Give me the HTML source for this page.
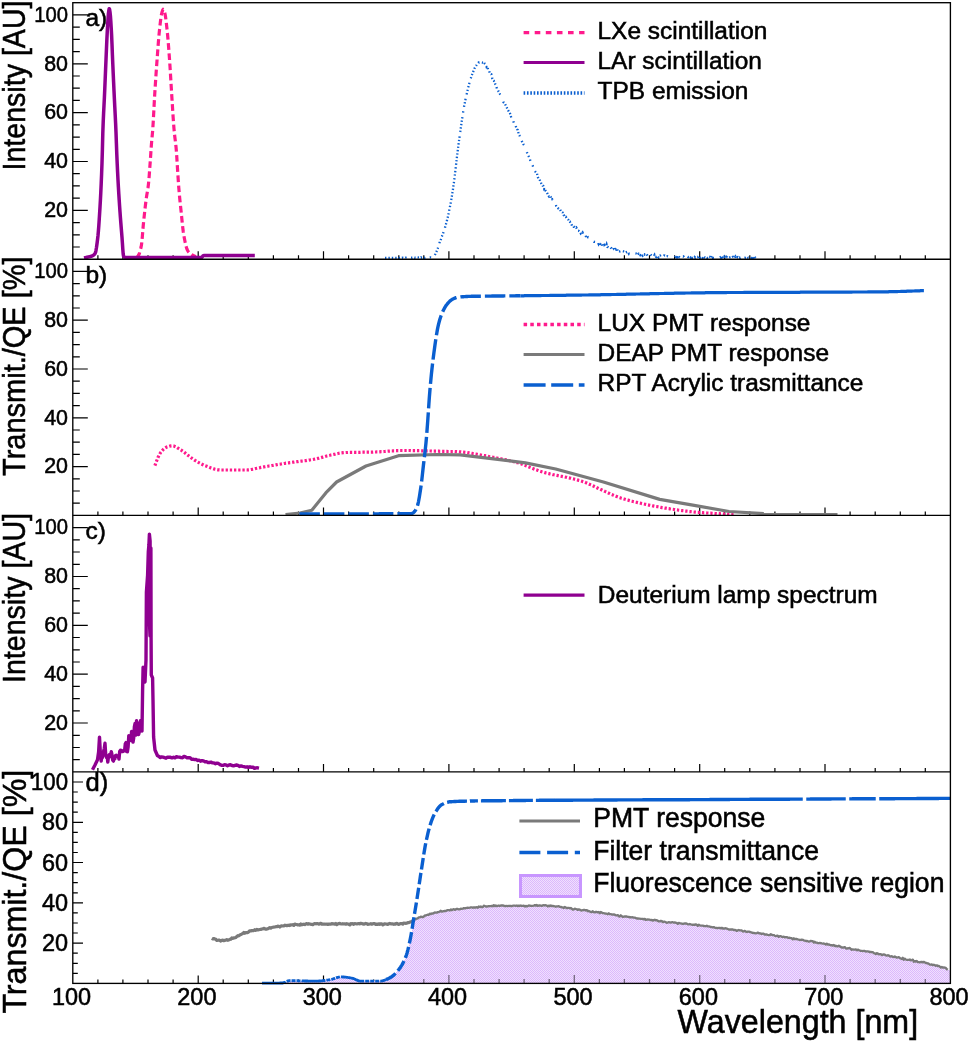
<!DOCTYPE html>
<html lang="en"><head><meta charset="utf-8"><title>Scintillation and PMT response spectra</title>
<style>html,body{margin:0;padding:0;background:#fff}svg{display:block}</style></head>
<body>
<svg width="969" height="1041" viewBox="0 0 969 1041">
<defs><pattern id="chk" width="2" height="2" patternUnits="userSpaceOnUse"><rect width="2" height="2" fill="#f0e0fe"/><rect width="1" height="1" fill="#dcb8fc"/><rect x="1" y="1" width="1" height="1" fill="#dcb8fc"/></pattern></defs>
<rect width="969" height="1041" fill="#fff"/>
<path d="M72.8,247.0h7.0M72.8,234.8h7.0M72.8,222.6h7.0M72.8,210.3h15.0M72.8,198.1h7.0M72.8,185.9h7.0M72.8,173.7h7.0M72.8,161.5h15.0M72.8,149.3h7.0M72.8,137.1h7.0M72.8,124.8h7.0M72.8,112.6h15.0M72.8,100.4h7.0M72.8,88.2h7.0M72.8,76.0h7.0M72.8,63.8h15.0M72.8,51.6h7.0M72.8,39.3h7.0M72.8,27.1h7.0M72.8,14.9h15.0M97.9,259.2v-4.0M122.9,259.2v-4.0M148.0,259.2v-4.0M173.1,259.2v-4.0M198.2,259.2v-8.0M223.2,259.2v-4.0M248.3,259.2v-4.0M273.4,259.2v-4.0M298.5,259.2v-4.0M323.5,259.2v-8.0M348.6,259.2v-4.0M373.7,259.2v-4.0M398.8,259.2v-4.0M423.8,259.2v-4.0M448.9,259.2v-8.0M474.0,259.2v-4.0M499.1,259.2v-4.0M524.1,259.2v-4.0M549.2,259.2v-4.0M574.3,259.2v-8.0M599.4,259.2v-4.0M624.4,259.2v-4.0M649.5,259.2v-4.0M674.6,259.2v-4.0M699.7,259.2v-8.0M724.7,259.2v-4.0M749.8,259.2v-4.0M774.9,259.2v-4.0M800.0,259.2v-4.0M825.0,259.2v-8.0M850.1,259.2v-4.0M875.2,259.2v-4.0M900.3,259.2v-4.0M925.3,259.2v-4.0" stroke="#000" stroke-width="1.2" fill="none"/>
<path d="M385.0,258.0 L385.8,258.0 L386.6,258.0 L387.4,258.0 L388.2,258.0 L389.0,258.0 L389.8,258.0 L390.6,258.0 L391.4,258.0 L392.2,258.0 L393.0,258.0 L393.8,258.0 L394.6,258.0 L395.4,258.0 L396.2,258.0 L397.0,258.0 L397.8,257.9 L398.6,258.0 L399.4,257.8 L400.2,257.8 L401.0,257.7 L401.8,258.0 L402.6,257.8 L403.4,258.0 L404.2,258.0 L405.0,257.9 L405.8,257.6 L406.6,257.8 L407.4,257.9 L408.2,257.9 L409.0,257.6 L409.8,257.8 L410.6,257.7 L411.4,257.7 L412.2,257.9 L413.0,257.6 L413.8,257.7 L414.6,257.9 L415.4,257.6 L416.2,257.7 L417.0,257.7 L417.8,257.7 L418.6,257.5 L419.4,257.6 L420.2,257.8 L421.0,257.3 L421.8,257.7 L422.6,257.6 L423.4,257.4 L424.2,257.8 L425.0,257.6 L425.8,257.3 L426.6,257.5 L427.4,257.5 L428.2,257.3 L429.0,257.4 L429.8,257.3 L430.6,257.3 L431.4,257.4 L432.2,256.8 L433.0,256.6 L433.8,256.1 L434.6,255.5 L435.4,254.0 L436.2,252.4 L437.0,250.4 L437.8,248.3 L438.6,246.0 L439.4,243.2 L440.2,241.1 L441.0,239.2 L441.8,236.6 L442.6,234.7 L443.4,232.5 L444.2,230.3 L445.0,227.7 L445.8,224.8 L446.6,221.9 L447.4,218.7 L448.2,215.5 L449.0,211.5 L449.8,207.5 L450.6,203.4 L451.4,198.8 L452.2,194.1 L453.0,189.0 L453.8,183.4 L454.6,177.0 L455.4,170.5 L456.2,163.5 L457.0,156.5 L457.8,150.0 L458.6,143.6 L459.4,138.1 L460.2,132.2 L461.0,126.6 L461.8,120.8 L462.6,115.8 L463.4,110.5 L464.2,105.8 L465.0,101.9 L465.8,97.9 L466.6,94.4 L467.4,91.2 L468.2,87.5 L469.0,84.4 L469.8,81.7 L470.6,79.1 L471.4,76.6 L472.2,74.3 L473.0,72.3 L473.8,70.3 L474.6,68.3 L475.4,66.9 L476.2,65.7 L477.0,64.4 L477.8,63.5 L478.6,62.5 L479.4,62.5 L480.2,62.3 L481.0,62.4 L481.8,62.4 L482.6,62.6 L483.4,62.5 L484.2,62.9" fill="none" stroke="#0a5fd0" stroke-width="2.3" stroke-dasharray="1.4 2.0 1.4 2.0 1.4 2.0 1.4 2.0 1.4 2.0 1.4 2.0 1.4 4.5 1.4 2.0 1.4 2.0 1.4 2.0 1.4 2.0 1.4 4.5 1.4 4.5 1.4 2.0 1.4 2.0 1.4 4.5 1.4 2.0 1.4 2.4 1.4 2.0 1.4 4.5 1.4 2.0 1.4 2.0 1.4 2.0 1.4 2.0 1.4 2.4 1.4 2.4 1.4 2.0 1.4 2.4 1.4 2.0 1.4 2.0 1.4 2.0 1.4 2.0 1.4 2.0 1.4 2.4 1.4 2.4 1.4 2.0 1.4 2.4 1.4 2.4 1.4 2.0 1.4 2.0"/>
<path d="M484.2,62.9 L485.0,63.9 L485.8,64.6 L486.6,66.9 L487.4,66.4 L488.2,70.0 L489.0,70.3 L489.8,73.1 L490.6,74.1 L491.4,74.4 L492.2,78.3 L493.0,80.2 L493.8,80.8 L494.6,82.5 L495.4,84.4 L496.2,85.6 L497.0,89.1 L497.8,89.6 L498.6,91.7 L499.4,92.8 L500.2,94.6 L501.0,95.7 L501.8,99.3 L502.6,99.7 L503.4,102.2 L504.2,102.9 L505.0,103.9 L505.8,105.7 L506.6,107.1 L507.4,109.1 L508.2,110.4 L509.0,112.0 L509.8,112.8 L510.6,114.9 L511.4,118.5 L512.2,118.4 L513.0,119.8 L513.8,122.7 L514.6,125.3 L515.4,124.8 L516.2,127.6 L517.0,129.1 L517.8,130.1 L518.6,133.9 L519.4,135.2 L520.2,137.1 L521.0,138.3 L521.8,141.1 L522.6,142.1 L523.4,144.3 L524.2,145.3 L525.0,147.1 L525.8,150.9 L526.6,151.3 L527.4,153.8 L528.2,155.4 L529.0,157.0 L529.8,158.8 L530.6,161.5 L531.4,162.6 L532.2,164.5 L533.0,166.4 L533.8,169.1 L534.6,170.4 L535.4,171.8 L536.2,172.6 L537.0,173.6 L537.8,177.0 L538.6,178.5 L539.4,179.1 L540.2,181.1 L541.0,182.8 L541.8,184.2 L542.6,185.7 L543.4,186.0 L544.2,188.9 L545.0,188.0 L545.8,191.1 L546.6,192.1 L547.4,193.6 L548.2,195.7 L549.0,196.6 L549.8,195.7 L550.6,196.5 L551.4,199.6 L552.2,199.3 L553.0,201.3 L553.8,203.1 L554.6,202.2 L555.4,202.9 L556.2,205.9 L557.0,206.7 L557.8,207.6 L558.6,208.8 L559.4,209.1 L560.2,209.6 L561.0,211.7 L561.8,212.0 L562.6,212.5 L563.4,215.1 L564.2,215.6 L565.0,217.0 L565.8,216.8 L566.6,218.0 L567.4,218.6 L568.2,219.6 L569.0,221.4 L569.8,221.5 L570.6,223.2 L571.4,224.0 L572.2,226.2 L573.0,224.3 L573.8,226.9 L574.6,226.9 L575.4,227.8 L576.2,227.4 L577.0,228.9 L577.8,230.7 L578.6,230.8 L579.4,231.6 L580.2,232.0 L581.0,233.9 L581.8,233.6 L582.6,232.5 L583.4,234.4 L584.2,233.9 L585.0,233.5 L585.8,236.2 L586.6,238.2 L587.4,237.6 L588.2,237.1 L589.0,237.8 L589.8,239.9 L590.6,239.5 L591.4,239.9 L592.2,240.2 L593.0,240.7 L593.8,241.7 L594.6,241.8 L595.4,241.9 L596.2,241.3 L597.0,242.9 L597.8,242.3 L598.6,244.1 L599.4,242.5 L600.2,243.8 L601.0,244.2 L601.8,243.5 L602.6,246.3 L603.4,246.4 L604.2,245.2 L605.0,246.5 L605.8,246.5 L606.6,244.4 L607.4,247.0 L608.2,247.1 L609.0,247.5 L609.8,246.9 L610.6,247.8 L611.4,248.1 L612.2,249.5 L613.0,249.1 L613.8,249.1 L614.6,250.5 L615.4,249.1 L616.2,249.5 L617.0,248.5 L617.8,251.4 L618.6,251.2 L619.4,251.3 L620.2,251.3 L621.0,251.0 L621.8,251.3 L622.6,251.1 L623.4,251.3 L624.2,251.7 L625.0,253.0 L625.8,252.4 L626.6,252.1 L627.4,251.8 L628.2,252.0 L629.0,253.9 L629.8,253.2 L630.6,252.9 L631.4,252.7 L632.2,252.3 L633.0,253.2 L633.8,254.1 L634.6,253.2 L635.4,253.4 L636.2,253.5 L637.0,253.9 L637.8,252.7 L638.6,253.8 L639.4,253.5 L640.2,254.9 L641.0,253.7 L641.8,254.9 L642.6,255.7 L643.4,254.4 L644.2,254.2 L645.0,254.9 L645.8,254.9 L646.6,254.2 L647.4,255.4 L648.2,256.7 L649.0,255.0 L649.8,255.1 L650.6,254.5 L651.4,255.7 L652.2,254.5 L653.0,254.6 L653.8,256.6 L654.6,254.9 L655.4,256.6 L656.2,257.0 L657.0,256.0 L657.8,256.3 L658.6,257.5 L659.4,255.8 L660.2,255.5 L661.0,254.9 L661.8,256.1 L662.6,257.3 L663.4,256.9 L664.2,255.4 L665.0,255.5 L665.8,255.9 L666.6,256.5 L667.4,256.2 L668.2,256.6 L669.0,256.7 L669.8,256.2 L670.6,256.5 L671.4,256.7 L672.2,256.5 L673.0,257.0 L673.8,258.0 L674.6,257.1 L675.4,256.7 L676.2,255.4 L677.0,257.1 L677.8,255.2 L678.6,255.7 L679.4,257.5 L680.2,257.4 L681.0,256.8 L681.8,255.5 L682.6,256.6 L683.4,256.4 L684.2,257.5 L685.0,258.0 L685.8,257.2 L686.6,256.4 L687.4,256.1 L688.2,257.1 L689.0,257.0 L689.8,256.2 L690.6,257.3 L691.4,256.3 L692.2,258.0 L693.0,258.0 L693.8,258.0 L694.6,256.9 L695.4,257.7 L696.2,257.2 L697.0,257.0 L697.8,257.0 L698.6,256.3 L699.4,256.2 L700.2,258.0 L701.0,257.2 L701.8,257.6 L702.6,258.0 L703.4,256.0 L704.2,256.8 L705.0,257.6 L705.8,257.8 L706.6,257.2 L707.4,258.0 L708.2,257.7 L709.0,256.5 L709.8,256.8 L710.6,258.0 L711.4,257.9 L712.2,256.0 L713.0,258.0 L713.8,258.0 L714.6,258.0 L715.4,257.3 L716.2,257.4 L717.0,256.7 L717.8,258.0 L718.6,257.5 L719.4,258.0 L720.2,257.2 L721.0,257.8 L721.8,256.4 L722.6,257.4 L723.4,258.0 L724.2,256.7 L725.0,258.0 L725.8,258.0 L726.6,256.9 L727.4,257.4 L728.2,257.4 L729.0,257.8 L729.8,257.4 L730.6,257.2 L731.4,257.6 L732.2,257.0 L733.0,256.8 L733.8,257.8 L734.6,258.0 L735.4,256.6 L736.2,257.9 L737.0,257.4 L737.8,257.1 L738.6,258.0 L739.4,257.5 L740.2,258.0 L741.0,257.3 L741.8,258.0 L742.6,257.7 L743.4,257.3 L744.2,258.0 L745.0,257.8 L745.8,258.0 L746.6,257.9 L747.4,257.1 L748.2,257.9 L749.0,258.0 L749.8,258.0 L750.6,257.3 L751.4,258.0 L752.2,256.6 L753.0,258.0 L753.8,257.1 L754.6,256.5 L755.4,257.9 L756.2,258.0 L757.0,256.8 L757.8,257.1 L758.6,257.4 L759.4,257.1" fill="none" stroke="#0a5fd0" stroke-width="2.3" stroke-dasharray="1.4 2.6 1.4 1.9 1.4 2.6 1.4 1.9 1.4 2.6 1.4 1.9 1.4 1.9 1.4 2.6 1.4 2.6 1.4 1.9 1.4 8.0 1.4 1.9 1.4 1.9 1.4 1.9 1.4 1.9 1.4 1.9 1.4 5.0 1.4 5.0 1.4 1.9 1.4 1.9 1.4 1.9 1.4 5.0 1.4 1.9 1.4 8.0 1.4 2.6 1.4 2.6 1.4 5.0 1.4 5.0 1.4 1.9 1.4 1.9 1.4 1.9 1.4 1.9 1.4 1.9 1.4 1.9 1.4 2.6 1.4 1.9 1.4 1.9 1.4 1.9 1.4 1.9 1.4 8.0 1.4 1.9 1.4 1.9 1.4 1.9 1.4 1.9 1.4 1.9 1.4 1.9 1.4 1.9 1.4 1.9 1.4 5.0 1.4 1.9 1.4 2.6 1.4 1.9 1.4 1.9 1.4 5.0 1.4 1.9 1.4 8.0 1.4 5.0 1.4 2.6 1.4 1.9 1.4 2.6"/>
<path d="M136.0,257.6 L136.4,257.5 L136.8,257.3 L137.2,257.0 L137.6,256.6 L138.0,256.1 L138.4,255.5 L138.8,254.8 L139.2,253.9 L139.6,252.7 L140.0,251.4 L140.4,249.9 L140.8,248.3 L141.2,246.4 L141.6,244.1 L142.0,240.5 L142.4,235.8 L142.8,230.8 L143.2,226.0 L143.6,221.9 L144.0,218.1 L144.4,214.3 L144.8,210.7 L145.2,207.1 L145.6,203.8 L146.0,200.6 L146.4,197.6 L146.8,195.1 L147.2,192.7 L147.6,190.3 L148.0,187.7 L148.4,184.6 L148.8,180.7 L149.2,175.8 L149.6,170.4 L150.0,164.9 L150.4,159.3 L150.8,153.3 L151.2,147.4 L151.6,142.2 L152.0,137.9 L152.4,133.7 L152.8,128.6 L153.2,122.3 L153.6,115.0 L154.0,107.4 L154.4,99.9 L154.8,93.0 L155.2,86.7 L155.6,80.6 L156.0,74.6 L156.4,68.9 L156.8,63.4 L157.2,57.9 L157.6,52.5 L158.0,47.1 L158.4,42.0 L158.8,37.3 L159.2,32.9 L159.6,29.1 L160.0,25.4 L160.4,21.9 L160.8,18.7 L161.2,15.9 L161.6,13.8 L162.0,12.3 L162.4,11.0 L162.8,9.9 L163.2,9.4 L163.6,9.6 L164.0,10.4 L164.4,11.6 L164.8,13.0 L165.2,14.8 L165.6,17.3 L166.0,20.2 L166.4,23.6 L166.8,27.3 L167.2,31.0 L167.6,35.0 L168.0,39.5 L168.4,44.4 L168.8,49.5 L169.2,55.0 L169.6,60.6 L170.0,66.5 L170.4,72.9 L170.8,79.7 L171.2,86.5 L171.6,93.0 L172.0,99.3 L172.4,105.7 L172.8,112.1 L173.2,118.1 L173.6,123.8 L174.0,128.9 L174.4,133.1 L174.8,136.7 L175.2,139.9 L175.6,143.2 L176.0,146.8 L176.4,151.3 L176.8,157.2 L177.2,163.8 L177.6,170.2 L178.0,176.3 L178.4,182.3 L178.8,187.9 L179.2,192.7 L179.6,197.1 L180.0,201.1 L180.4,204.9 L180.8,208.6 L181.2,212.4 L181.6,216.4 L182.0,220.4 L182.4,224.3 L182.8,228.0 L183.2,231.3 L183.6,234.0 L184.0,236.3 L184.4,238.5 L184.8,240.5 L185.2,242.5 L185.6,244.3 L186.0,246.0 L186.4,247.4 L186.8,248.7 L187.2,249.7 L187.6,250.5 L188.0,251.1 L188.4,251.7 L188.8,252.2 L189.2,252.6 L189.6,253.0 L190.0,253.4 L190.4,253.7 L190.8,254.0 L191.2,254.3 L191.6,254.6 L192.0,254.8 L192.4,255.1 L192.8,255.3 L193.2,255.5 L193.6,255.7 L194.0,255.9 L194.4,256.1 L194.8,256.2 L195.2,256.4 L195.6,256.5 L196.0,256.6" fill="none" stroke="#ff1a8c" stroke-width="3.2" stroke-dasharray="6.7 3.5"/>
<path d="M84.0,258.0 L84.4,257.9 L84.8,257.8 L85.2,257.7 L85.6,257.6 L86.0,257.5 L86.4,257.4 L86.8,257.3 L87.2,257.2 L87.6,257.1 L88.0,257.1 L88.4,257.0 L88.8,256.9 L89.2,256.8 L89.6,256.7 L90.0,256.6 L90.4,256.5 L90.8,256.4 L91.2,256.3 L91.6,256.2 L92.0,256.0 L92.4,255.8 L92.8,255.6 L93.2,255.4 L93.6,255.1 L94.0,254.7 L94.4,254.3 L94.8,253.8 L95.2,253.2 L95.6,252.1 L96.0,250.3 L96.4,248.0 L96.8,245.3 L97.2,242.2 L97.6,239.0 L98.0,235.5 L98.4,231.0 L98.8,225.8 L99.2,219.9 L99.6,213.7 L100.0,207.2 L100.4,200.1 L100.8,192.3 L101.2,183.7 L101.6,174.0 L102.0,163.0 L102.4,149.4 L102.8,133.2 L103.2,122.1 L103.6,113.2 L104.0,105.3 L104.4,97.4 L104.8,88.4 L105.2,78.7 L105.6,69.1 L106.0,59.7 L106.4,50.2 L106.8,41.0 L107.2,32.8 L107.6,25.7 L108.0,19.0 L108.4,13.7 L108.8,10.6 L109.2,8.7 L109.6,9.4 L110.0,12.0 L110.4,15.7 L110.8,21.1 L111.2,27.6 L111.6,34.9 L112.0,44.3 L112.4,54.7 L112.8,64.3 L113.2,73.3 L113.6,82.2 L114.0,90.9 L114.4,99.2 L114.8,107.1 L115.2,115.0 L115.6,123.2 L116.0,132.4 L116.4,143.4 L116.8,154.4 L117.2,163.6 L117.6,172.2 L118.0,180.0 L118.4,187.2 L118.8,193.9 L119.2,200.2 L119.6,206.2 L120.0,211.9 L120.4,217.3 L120.8,222.5 L121.2,227.5 L121.6,232.4 L122.0,237.3 L122.4,243.0 L122.8,249.1 L123.2,254.1 L123.6,256.4 L124.0,256.7 L124.4,257.0 L124.8,257.2 L125.2,257.4 L125.6,257.5 L126.0,257.5 L126.4,257.5 L126.8,257.5 L127.2,257.5 L127.6,257.5 L128.0,257.5 L128.4,257.5 L128.8,257.5 L129.2,257.5 L129.6,257.5 L130.0,257.5 L130.4,257.5 L130.8,257.5 L131.2,257.5 L131.6,257.5 L132.0,257.5 L132.4,257.5 L132.8,257.5 L133.2,257.5 L133.6,257.5 L134.0,257.5 L134.4,257.5 L134.8,257.5 L135.2,257.5 L135.6,257.5 L136.0,257.5 L136.4,257.5 L136.8,257.5 L137.2,257.5 L137.6,257.5 L138.0,257.5 L138.4,257.5 L138.8,257.5 L139.2,257.5 L139.6,257.5 L140.0,257.5 L140.4,257.5 L140.8,257.5 L141.2,257.5 L141.6,257.5 L142.0,257.5 L142.4,257.5 L142.8,257.5 L143.2,257.5 L143.6,257.5 L144.0,257.5 L144.4,257.5 L144.8,257.5 L145.2,257.5 L145.6,257.5 L146.0,257.5 L146.4,257.5 L146.8,257.5 L147.2,257.5 L147.6,257.5 L148.0,257.5 L148.4,257.5 L148.8,257.5 L149.2,257.5 L149.6,257.5 L150.0,257.5 L150.4,257.5 L150.8,257.5 L151.2,257.5 L151.6,257.5 L152.0,257.5 L152.4,257.5 L152.8,257.5 L153.2,257.5 L153.6,257.5 L154.0,257.5 L154.4,257.5 L154.8,257.5 L155.2,257.5 L155.6,257.5 L156.0,257.5 L156.4,257.5 L156.8,257.5 L157.2,257.5 L157.6,257.5 L158.0,257.5 L158.4,257.5 L158.8,257.5 L159.2,257.5 L159.6,257.5 L160.0,257.5 L160.4,257.5 L160.8,257.5 L161.2,257.5 L161.6,257.5 L162.0,257.5 L162.4,257.5 L162.8,257.5 L163.2,257.5 L163.6,257.5 L164.0,257.5 L164.4,257.5 L164.8,257.5 L165.2,257.5 L165.6,257.5 L166.0,257.5 L166.4,257.5 L166.8,257.5 L167.2,257.5 L167.6,257.5 L168.0,257.5 L168.4,257.5 L168.8,257.5 L169.2,257.5 L169.6,257.5 L170.0,257.5 L170.4,257.5 L170.8,257.5 L171.2,257.5 L171.6,257.5 L172.0,257.5 L172.4,257.5 L172.8,257.5 L173.2,257.5 L173.6,257.5 L174.0,257.5 L174.4,257.5 L174.8,257.5 L175.2,257.5 L175.6,257.5 L176.0,257.5 L176.4,257.5 L176.8,257.5 L177.2,257.5 L177.6,257.5 L178.0,257.5 L178.4,257.5 L178.8,257.5 L179.2,257.5 L179.6,257.5 L180.0,257.5 L180.4,257.5 L180.8,257.5 L181.2,257.5 L181.6,257.5 L182.0,257.5 L182.4,257.5 L182.8,257.5 L183.2,257.5 L183.6,257.5 L184.0,257.5 L184.4,257.5 L184.8,257.5 L185.2,257.5 L185.6,257.5 L186.0,257.5 L186.4,257.5 L186.8,257.5 L187.2,257.5 L187.6,257.5 L188.0,257.5 L188.4,257.5 L188.8,257.5 L189.2,257.5 L189.6,257.5 L190.0,257.5 L190.4,257.5 L190.8,257.5 L191.2,257.5 L191.6,257.5 L192.0,257.5 L192.4,257.5 L192.8,257.5 L193.2,257.5 L193.6,257.5 L194.0,257.5 L194.4,257.5 L194.8,257.5 L195.2,257.5 L195.6,257.5 L196.0,257.5 L196.4,257.5 L196.8,257.5 L197.2,257.5 L197.6,257.5 L198.0,257.5 L198.4,257.5 L198.8,257.5 L199.2,257.5 L199.6,257.5 L200.0,257.5 L200.4,257.5 L200.8,257.5 L201.2,257.5 L201.6,257.5 L202.0,257.2 L202.4,256.7 L202.8,256.1 L203.2,255.7 L203.6,255.6 L204.0,255.6 L204.4,255.6 L204.8,255.6 L205.2,255.6 L205.6,255.6 L206.0,255.6 L206.4,255.6 L206.8,255.6 L207.2,255.6 L207.6,255.6 L208.0,255.6 L208.4,255.6 L208.8,255.5 L209.2,255.5 L209.6,255.5 L210.0,255.5 L210.4,255.5 L210.8,255.5 L211.2,255.5 L211.6,255.5 L212.0,255.5 L212.4,255.5 L212.8,255.5 L213.2,255.5 L213.6,255.5 L214.0,255.5 L214.4,255.5 L214.8,255.5 L215.2,255.5 L215.6,255.5 L216.0,255.5 L216.4,255.5 L216.8,255.5 L217.2,255.5 L217.6,255.5 L218.0,255.5 L218.4,255.5 L218.8,255.5 L219.2,255.5 L219.6,255.5 L220.0,255.5 L220.4,255.5 L220.8,255.5 L221.2,255.5 L221.6,255.5 L222.0,255.5 L222.4,255.5 L222.8,255.5 L223.2,255.5 L223.6,255.4 L224.0,255.4 L224.4,255.4 L224.8,255.4 L225.2,255.4 L225.6,255.4 L226.0,255.4 L226.4,255.4 L226.8,255.4 L227.2,255.4 L227.6,255.4 L228.0,255.4 L228.4,255.4 L228.8,255.4 L229.2,255.4 L229.6,255.4 L230.0,255.4 L230.4,255.4 L230.8,255.4 L231.2,255.4 L231.6,255.4 L232.0,255.4 L232.4,255.4 L232.8,255.4 L233.2,255.4 L233.6,255.4 L234.0,255.4 L234.4,255.4 L234.8,255.4 L235.2,255.4 L235.6,255.4 L236.0,255.4 L236.4,255.4 L236.8,255.4 L237.2,255.4 L237.6,255.4 L238.0,255.4 L238.4,255.4 L238.8,255.4 L239.2,255.4 L239.6,255.4 L240.0,255.4 L240.4,255.4 L240.8,255.4 L241.2,255.4 L241.6,255.4 L242.0,255.4 L242.4,255.4 L242.8,255.4 L243.2,255.4 L243.6,255.4 L244.0,255.4 L244.4,255.4 L244.8,255.4 L245.2,255.4 L245.6,255.4 L246.0,255.4 L246.4,255.4 L246.8,255.4 L247.2,255.4 L247.6,255.4 L248.0,255.4 L248.4,255.4 L248.8,255.4 L249.2,255.4 L249.6,255.4 L250.0,255.4 L250.4,255.4 L250.8,255.4 L251.2,255.4 L251.6,255.4 L252.0,255.4 L252.4,255.4 L252.8,255.4 L253.2,255.4 L253.6,255.4 L254.0,255.4 L254.4,255.4 L254.8,255.4" fill="none" stroke="#8f0090" stroke-width="3.5" stroke-linejoin="round"/>
<path d="M72.8,503.2h7.0M72.8,491.0h7.0M72.8,478.8h7.0M72.8,466.6h15.0M72.8,454.4h7.0M72.8,442.2h7.0M72.8,430.0h7.0M72.8,417.8h15.0M72.8,405.6h7.0M72.8,393.4h7.0M72.8,381.2h7.0M72.8,369.0h15.0M72.8,356.8h7.0M72.8,344.6h7.0M72.8,332.4h7.0M72.8,320.2h15.0M72.8,308.0h7.0M72.8,295.8h7.0M72.8,283.6h7.0M72.8,271.4h15.0M97.9,515.4v-4.0M122.9,515.4v-4.0M148.0,515.4v-4.0M173.1,515.4v-4.0M198.2,515.4v-8.0M223.2,515.4v-4.0M248.3,515.4v-4.0M273.4,515.4v-4.0M298.5,515.4v-4.0M323.5,515.4v-8.0M348.6,515.4v-4.0M373.7,515.4v-4.0M398.8,515.4v-4.0M423.8,515.4v-4.0M448.9,515.4v-8.0M474.0,515.4v-4.0M499.1,515.4v-4.0M524.1,515.4v-4.0M549.2,515.4v-4.0M574.3,515.4v-8.0M599.4,515.4v-4.0M624.4,515.4v-4.0M649.5,515.4v-4.0M674.6,515.4v-4.0M699.7,515.4v-8.0M724.7,515.4v-4.0M749.8,515.4v-4.0M774.9,515.4v-4.0M800.0,515.4v-4.0M825.0,515.4v-8.0M850.1,515.4v-4.0M875.2,515.4v-4.0M900.3,515.4v-4.0M925.3,515.4v-4.0" stroke="#000" stroke-width="1.2" fill="none"/>
<path d="M154.9,465.6 L155.9,462.8 L156.9,460.2 L157.9,457.7 L158.9,455.6 L159.9,453.7 L160.9,452.1 L161.9,450.9 L162.9,449.8 L163.9,448.9 L164.9,448.1 L165.9,447.5 L166.9,447.0 L167.9,446.7 L168.9,446.4 L169.9,446.1 L170.9,445.9 L171.9,445.8 L172.9,445.8 L173.9,446.0 L174.9,446.4 L175.9,446.8 L176.9,447.4 L177.9,448.1 L178.9,448.7 L179.9,449.3 L180.9,449.9 L181.9,450.6 L182.9,451.3 L183.9,452.0 L184.9,452.8 L185.9,453.7 L186.9,454.5 L187.9,455.3 L188.9,456.1 L189.9,456.9 L190.9,457.6 L191.9,458.3 L192.9,459.0 L193.9,459.6 L194.9,460.3 L195.9,460.9 L196.9,461.5 L197.9,462.1 L198.9,462.7 L199.9,463.2 L200.9,463.7 L201.9,464.2 L202.9,464.7 L203.9,465.2 L204.9,465.6 L205.9,465.9 L206.9,466.3 L207.9,466.7 L208.9,467.1 L209.9,467.5 L210.9,467.9 L211.9,468.2 L212.9,468.6 L213.9,468.9 L214.9,469.2 L215.9,469.4 L216.9,469.6 L217.9,469.8 L218.9,469.9 L219.9,470.0 L220.9,470.0 L221.9,470.0 L222.9,470.0 L223.9,470.0 L224.9,470.0 L225.9,470.0 L226.9,470.0 L227.9,470.0 L228.9,470.0 L229.9,470.0 L230.9,470.0 L231.9,470.0 L232.9,470.0 L233.9,470.0 L234.9,470.0 L235.9,470.0 L236.9,470.0 L237.9,470.0 L238.9,470.0 L239.9,470.0 L240.9,470.0 L241.9,470.0 L242.9,470.0 L243.9,470.0 L244.9,470.0 L245.9,470.0 L246.9,470.0 L247.9,469.9 L248.9,469.8 L249.9,469.7 L250.9,469.5 L251.9,469.4 L252.9,469.2 L253.9,469.0 L254.9,468.8 L255.9,468.5 L256.9,468.3 L257.9,468.1 L258.9,467.9 L259.9,467.7 L260.9,467.4 L261.9,467.2 L262.9,467.1 L263.9,466.9 L264.9,466.7 L265.9,466.5 L266.9,466.4 L267.9,466.2 L268.9,466.0 L269.9,465.9 L270.9,465.7 L271.9,465.5 L272.9,465.4 L273.9,465.2 L274.9,465.0 L275.9,464.8 L276.9,464.7 L277.9,464.5 L278.9,464.3 L279.9,464.2 L280.9,464.0 L281.9,463.9 L282.9,463.7 L283.9,463.5 L284.9,463.4 L285.9,463.2 L286.9,463.1 L287.9,462.9 L288.9,462.8 L289.9,462.6 L290.9,462.5 L291.9,462.3 L292.9,462.2 L293.9,462.1 L294.9,461.9 L295.9,461.8 L296.9,461.7 L297.9,461.6 L298.9,461.4 L299.9,461.3 L300.9,461.2 L301.9,461.1 L302.9,461.0 L303.9,460.8 L304.9,460.7 L305.9,460.6 L306.9,460.4 L307.9,460.3 L308.9,460.1 L309.9,460.0 L310.9,459.8 L311.9,459.7 L312.9,459.5 L313.9,459.3 L314.9,459.1 L315.9,458.9 L316.9,458.7 L317.9,458.4 L318.9,458.2 L319.9,457.9 L320.9,457.7 L321.9,457.4 L322.9,457.1 L323.9,456.8 L324.9,456.6 L325.9,456.3 L326.9,456.0 L327.9,455.8 L328.9,455.5 L329.9,455.3 L330.9,455.0 L331.9,454.8 L332.9,454.6 L333.9,454.4 L334.9,454.2 L335.9,453.9 L336.9,453.7 L337.9,453.5 L338.9,453.3 L339.9,453.1 L340.9,452.9 L341.9,452.8 L342.9,452.7 L343.9,452.6 L344.9,452.6 L345.9,452.5 L346.9,452.5 L347.9,452.5 L348.9,452.4 L349.9,452.4 L350.9,452.4 L351.9,452.4 L352.9,452.4 L353.9,452.3 L354.9,452.3 L355.9,452.3 L356.9,452.3 L357.9,452.3 L358.9,452.3 L359.9,452.3 L360.9,452.2 L361.9,452.2 L362.9,452.2 L363.9,452.2 L364.9,452.2 L365.9,452.2 L366.9,452.2 L367.9,452.2 L368.9,452.1 L369.9,452.1 L370.9,452.1 L371.9,452.1 L372.9,452.1 L373.9,452.0 L374.9,452.0 L375.9,452.0 L376.9,451.9 L377.9,451.9 L378.9,451.9 L379.9,451.8 L380.9,451.7 L381.9,451.7 L382.9,451.6 L383.9,451.5 L384.9,451.5 L385.9,451.4 L386.9,451.3 L387.9,451.2 L388.9,451.2 L389.9,451.1 L390.9,451.0 L391.9,451.0 L392.9,450.9 L393.9,450.8 L394.9,450.8 L395.9,450.7 L396.9,450.7 L397.9,450.6 L398.9,450.6 L399.9,450.5 L400.9,450.5 L401.9,450.5 L402.9,450.5 L403.9,450.5 L404.9,450.5 L405.9,450.5 L406.9,450.5 L407.9,450.5 L408.9,450.5 L409.9,450.5 L410.9,450.6 L411.9,450.6 L412.9,450.6 L413.9,450.6 L414.9,450.6 L415.9,450.6 L416.9,450.7 L417.9,450.7 L418.9,450.7 L419.9,450.7 L420.9,450.8 L421.9,450.8 L422.9,450.8 L423.9,450.8 L424.9,450.9 L425.9,450.9 L426.9,450.9 L427.9,450.9 L428.9,451.0 L429.9,451.0 L430.9,451.0 L431.9,451.1 L432.9,451.1 L433.9,451.1 L434.9,451.1 L435.9,451.2 L436.9,451.2 L437.9,451.2 L438.9,451.2 L439.9,451.3 L440.9,451.3 L441.9,451.3 L442.9,451.3 L443.9,451.4 L444.9,451.4 L445.9,451.4 L446.9,451.4 L447.9,451.5 L448.9,451.5 L449.9,451.5 L450.9,451.5 L451.9,451.6 L452.9,451.6 L453.9,451.6 L454.9,451.7 L455.9,451.7 L456.9,451.7 L457.9,451.8 L458.9,451.8 L459.9,451.9 L460.9,451.9 L461.9,452.0 L462.9,452.1 L463.9,452.2 L464.9,452.3 L465.9,452.4 L466.9,452.5 L467.9,452.7 L468.9,452.8 L469.9,453.0 L470.9,453.1 L471.9,453.3 L472.9,453.5 L473.9,453.6 L474.9,453.8 L475.9,454.0 L476.9,454.2 L477.9,454.4 L478.9,454.6 L479.9,454.8 L480.9,455.0 L481.9,455.2 L482.9,455.4 L483.9,455.6 L484.9,455.7 L485.9,455.9 L486.9,456.1 L487.9,456.3 L488.9,456.5 L489.9,456.7 L490.9,456.8 L491.9,457.0 L492.9,457.2 L493.9,457.4 L494.9,457.6 L495.9,457.8 L496.9,458.0 L497.9,458.2 L498.9,458.4 L499.9,458.6 L500.9,458.8 L501.9,459.0 L502.9,459.2 L503.9,459.4 L504.9,459.6 L505.9,459.8 L506.9,460.1 L507.9,460.3 L508.9,460.5 L509.9,460.8 L510.9,461.0 L511.9,461.3 L512.9,461.5 L513.9,461.8 L514.9,462.0 L515.9,462.3 L516.9,462.6 L517.9,462.8 L518.9,463.1 L519.9,463.5 L520.9,463.8 L521.9,464.1 L522.9,464.5 L523.9,464.9 L524.9,465.3 L525.9,465.7 L526.9,466.1 L527.9,466.5 L528.9,466.9 L529.9,467.3 L530.9,467.7 L531.9,468.1 L532.9,468.5 L533.9,468.9 L534.9,469.3 L535.9,469.7 L536.9,470.0 L537.9,470.4 L538.9,470.8 L539.9,471.1 L540.9,471.4 L541.9,471.8 L542.9,472.1 L543.9,472.3 L544.9,472.6 L545.9,472.9 L546.9,473.1 L547.9,473.4 L548.9,473.6 L549.9,473.9 L550.9,474.1 L551.9,474.3 L552.9,474.6 L553.9,474.8 L554.9,475.0 L555.9,475.2 L556.9,475.4 L557.9,475.6 L558.9,475.8 L559.9,476.0 L560.9,476.2 L561.9,476.4 L562.9,476.6 L563.9,476.8 L564.9,477.0 L565.9,477.2 L566.9,477.4 L567.9,477.7 L568.9,477.9 L569.9,478.1 L570.9,478.3 L571.9,478.6 L572.9,478.8 L573.9,479.0 L574.9,479.3 L575.9,479.5 L576.9,479.8 L577.9,480.1 L578.9,480.4 L579.9,480.6 L580.9,481.0 L581.9,481.3 L582.9,481.6 L583.9,481.9 L584.9,482.3 L585.9,482.7 L586.9,483.1 L587.9,483.5 L588.9,484.0 L589.9,484.4 L590.9,484.9 L591.9,485.3 L592.9,485.8 L593.9,486.3 L594.9,486.8 L595.9,487.2 L596.9,487.7 L597.9,488.2 L598.9,488.7 L599.9,489.1 L600.9,489.6 L601.9,490.0 L602.9,490.5 L603.9,490.9 L604.9,491.4 L605.9,491.8 L606.9,492.2 L607.9,492.7 L608.9,493.2 L609.9,493.6 L610.9,494.1 L611.9,494.5 L612.9,495.0 L613.9,495.4 L614.9,495.8 L615.9,496.2 L616.9,496.6 L617.9,497.0 L618.9,497.4 L619.9,497.7 L620.9,498.1 L621.9,498.4 L622.9,498.7 L623.9,499.0 L624.9,499.3 L625.9,499.6 L626.9,499.9 L627.9,500.1 L628.9,500.4 L629.9,500.7 L630.9,501.0 L631.9,501.2 L632.9,501.5 L633.9,501.7 L634.9,502.0 L635.9,502.2 L636.9,502.4 L637.9,502.7 L638.9,502.9 L639.9,503.1 L640.9,503.3 L641.9,503.6 L642.9,503.8 L643.9,504.0 L644.9,504.2 L645.9,504.4 L646.9,504.6 L647.9,504.9 L648.9,505.1 L649.9,505.3 L650.9,505.5 L651.9,505.7 L652.9,505.9 L653.9,506.1 L654.9,506.3 L655.9,506.5 L656.9,506.6 L657.9,506.8 L658.9,507.0 L659.9,507.2 L660.9,507.4 L661.9,507.6 L662.9,507.7 L663.9,507.9 L664.9,508.1 L665.9,508.2 L666.9,508.4 L667.9,508.6 L668.9,508.7 L669.9,508.9 L670.9,509.0 L671.9,509.2 L672.9,509.3 L673.9,509.5 L674.9,509.6 L675.9,509.8 L676.9,509.9 L677.9,510.0 L678.9,510.2 L679.9,510.3 L680.9,510.5 L681.9,510.6 L682.9,510.7 L683.9,510.8 L684.9,511.0 L685.9,511.1 L686.9,511.2 L687.9,511.3 L688.9,511.5 L689.9,511.6 L690.9,511.7 L691.9,511.8 L692.9,511.9 L693.9,512.0 L694.9,512.1 L695.9,512.2 L696.9,512.3 L697.9,512.3 L698.9,512.4 L699.9,512.5 L700.9,512.5 L701.9,512.6 L702.9,512.7 L703.9,512.8 L704.9,512.8 L705.9,512.9 L706.9,513.0 L707.9,513.0 L708.9,513.1 L709.9,513.2 L710.9,513.2 L711.9,513.3 L712.9,513.4 L713.9,513.4 L714.9,513.5 L715.9,513.5 L716.9,513.6 L717.9,513.6 L718.9,513.7 L719.9,513.7 L720.9,513.8 L721.9,513.8 L722.9,513.9 L723.9,513.9 L724.9,514.0 L725.9,514.0 L726.9,514.0 L727.9,514.1 L728.9,514.1 L729.9,514.1 L730.9,514.1 L731.9,514.2 L732.9,514.2 L733.9,514.2 L734.9,514.2" fill="none" stroke="#ff1a8c" stroke-width="3.2" stroke-dasharray="2.3 1.9"/>
<path d="M285.5,514.5 L300.0,513.0 L311.8,510.2 L325.8,492.9 L336.6,482.0 L366.0,466.0 L398.5,455.7 L437.2,454.5 L460.3,454.8 L525.4,462.9 L555.7,469.0 L603.4,482.0 L659.7,499.4 L690.0,504.6 L729.0,511.5 L763.8,513.7 L837.5,514.5" fill="none" stroke="#7a7a7a" stroke-width="3.2" stroke-linejoin="round"/>
<path d="M299.4,514.0 L299.9,514.0 L300.4,514.0 L300.9,514.0 L301.4,514.0 L301.9,514.0 L302.4,514.0 L302.9,514.0 L303.4,514.0 L303.9,514.0 L304.4,514.0 L304.9,514.0 L305.4,514.0 L305.9,514.0 L306.4,514.0 L306.9,514.0 L307.4,514.0 L307.9,514.0 L308.4,514.0 L308.9,514.0 L309.4,514.0 L309.9,514.0 L310.4,514.0 L310.9,514.0 L311.4,514.0 L311.9,514.0 L312.4,514.0 L312.9,514.0 L313.4,514.0 L313.9,514.0 L314.4,514.0 L314.9,514.0 L315.4,514.0 L315.9,514.0 L316.4,514.0 L316.9,514.0 L317.4,514.0 L317.9,514.0 L318.4,514.0 L318.9,514.0 L319.4,514.0 L319.9,514.0 L320.4,514.0 L320.9,514.0 L321.4,514.0 L321.9,514.0 L322.4,514.0 L322.9,514.0 L323.4,514.0 L323.9,514.0 L324.4,514.0 L324.9,514.0 L325.4,514.0 L325.9,514.0 L326.4,514.0 L326.9,514.0 L327.4,514.0 L327.9,514.0 L328.4,514.0 L328.9,514.0 L329.4,514.0 L329.9,514.0 L330.4,514.0 L330.9,514.0 L331.4,514.0 L331.9,514.0 L332.4,514.0 L332.9,514.0 L333.4,514.0 L333.9,514.0 L334.4,514.0 L334.9,514.0 L335.4,514.0 L335.9,514.0 L336.4,514.0 L336.9,514.0 L337.4,514.0 L337.9,514.0 L338.4,514.0 L338.9,514.0 L339.4,514.0 L339.9,514.0 L340.4,514.0 L340.9,514.0 L341.4,514.0 L341.9,514.0 L342.4,514.0 L342.9,514.0 L343.4,514.0 L343.9,514.0 L344.4,514.0 L344.9,514.0 L345.4,514.0 L345.9,514.0 L346.4,514.0 L346.9,514.0 L347.4,514.0 L347.9,514.0 L348.4,514.0 L348.9,514.0 L349.4,514.0 L349.9,514.0 L350.4,514.0 L350.9,514.0 L351.4,514.0 L351.9,514.0 L352.4,514.0 L352.9,514.0 L353.4,514.0 L353.9,513.9 L354.4,513.9 L354.9,513.9 L355.4,513.9 L355.9,513.9 L356.4,513.9 L356.9,513.9 L357.4,513.9 L357.9,513.9 L358.4,513.9 L358.9,513.9 L359.4,513.9 L359.9,513.9 L360.4,513.9 L360.9,513.9 L361.4,513.9 L361.9,513.9 L362.4,513.9 L362.9,513.9 L363.4,513.9 L363.9,513.9 L364.4,513.9 L364.9,513.9 L365.4,513.9 L365.9,513.9 L366.4,513.9 L366.9,513.9 L367.4,513.9 L367.9,513.9 L368.4,513.9 L368.9,513.9 L369.4,513.9 L369.9,513.9 L370.4,513.9 L370.9,513.9 L371.4,513.9 L371.9,513.9 L372.4,513.9 L372.9,513.9 L373.4,513.9 L373.9,513.9 L374.4,513.9 L374.9,513.9 L375.4,513.9 L375.9,513.9 L376.4,513.9 L376.9,513.9 L377.4,513.9 L377.9,513.9 L378.4,513.9 L378.9,513.9 L379.4,513.8 L379.9,513.8 L380.4,513.8 L380.9,513.8 L381.4,513.8 L381.9,513.8 L382.4,513.8 L382.9,513.8 L383.4,513.8 L383.9,513.8 L384.4,513.8 L384.9,513.8 L385.4,513.8 L385.9,513.8 L386.4,513.8 L386.9,513.8 L387.4,513.8 L387.9,513.8 L388.4,513.8 L388.9,513.8 L389.4,513.8 L389.9,513.8 L390.4,513.8 L390.9,513.8 L391.4,513.8 L391.9,513.8 L392.4,513.8 L392.9,513.8 L393.4,513.8 L393.9,513.8 L394.4,513.8 L394.9,513.7 L395.4,513.7 L395.9,513.7 L396.4,513.7 L396.9,513.7 L397.4,513.7 L397.9,513.7 L398.4,513.7 L398.9,513.7 L399.4,513.7 L399.9,513.7 L400.4,513.7 L400.9,513.7 L401.4,513.7 L401.9,513.7 L402.4,513.7 L402.9,513.7 L403.4,513.7 L403.9,513.7 L404.4,513.7 L404.9,513.7 L405.4,513.7 L405.9,513.7 L406.4,513.7 L406.9,513.6 L407.4,513.6 L407.9,513.6 L408.4,513.6 L408.9,513.6 L409.4,513.6 L409.9,513.6 L410.4,513.6 L410.9,513.6 L411.4,513.6 L411.9,513.5 L412.4,513.3 L412.9,513.0 L413.4,512.7 L413.9,512.3 L414.4,511.7 L414.9,511.1 L415.4,510.3 L415.9,509.4 L416.4,508.3 L416.9,507.2 L417.4,505.9 L417.9,504.3 L418.4,502.1 L418.9,499.5 L419.4,496.7 L419.9,493.6 L420.4,490.3 L420.9,487.0 L421.4,483.3 L421.9,479.1 L422.4,474.6 L422.9,470.0 L423.4,465.5 L423.9,461.2 L424.4,457.0 L424.9,452.8 L425.4,448.4 L425.9,443.6 L426.4,438.2 L426.9,432.0 L427.4,425.3 L427.9,418.5 L428.4,411.3 L428.9,403.7 L429.4,396.7 L429.9,390.5 L430.4,384.7 L430.9,379.3 L431.4,374.2 L431.9,369.5 L432.4,365.0 L432.9,360.8 L433.4,356.7 L433.9,352.9 L434.4,349.2 L434.9,345.6 L435.4,342.1 L435.9,338.7 L436.4,335.5 L436.9,332.4 L437.4,329.6 L437.9,327.1 L438.4,324.9 L438.9,322.9 L439.4,321.0 L439.9,319.3 L440.4,317.7 L440.9,316.2 L441.4,314.9 L441.9,313.6 L442.4,312.4 L442.9,311.3 L443.4,310.2 L443.9,309.2 L444.4,308.3 L444.9,307.4 L445.4,306.6 L445.9,305.8 L446.4,305.1 L446.9,304.5 L447.4,303.8 L447.9,303.2 L448.4,302.7 L448.9,302.1 L449.4,301.6 L449.9,301.1 L450.4,300.7 L450.9,300.3 L451.4,299.9 L451.9,299.6 L452.4,299.3 L452.9,299.0 L453.4,298.8 L453.9,298.5 L454.4,298.3 L454.9,298.1 L455.4,297.9 L455.9,297.7 L456.4,297.6 L456.9,297.4 L457.4,297.3 L457.9,297.3 L458.4,297.2 L458.9,297.1 L459.4,297.1 L459.9,297.0 L460.4,297.0 L460.9,296.9 L461.4,296.9 L461.9,296.8 L462.4,296.8 L462.9,296.7 L463.4,296.7 L463.9,296.6 L464.4,296.6 L464.9,296.6 L465.4,296.6 L465.9,296.5 L466.4,296.5 L466.9,296.5 L467.4,296.5 L467.9,296.4 L468.4,296.4 L468.9,296.4 L469.4,296.4 L469.9,296.4 L470.4,296.4 L470.9,296.4 L471.4,296.3 L471.9,296.3 L472.4,296.3 L472.9,296.3 L473.4,296.3 L473.9,296.3 L474.4,296.3 L474.9,296.3 L475.4,296.3 L475.9,296.3 L476.4,296.2 L476.9,296.2 L477.4,296.2 L477.9,296.2 L478.4,296.2 L478.9,296.2 L479.4,296.2 L479.9,296.2 L480.4,296.2 L480.9,296.2 L481.4,296.2 L481.9,296.2 L482.4,296.2 L482.9,296.1 L483.4,296.1 L483.9,296.1 L484.4,296.1 L484.9,296.1 L485.4,296.1 L485.9,296.1 L486.4,296.1 L486.9,296.1 L487.4,296.1 L487.9,296.1 L488.4,296.1 L488.9,296.1 L489.4,296.1 L489.9,296.1 L490.4,296.1 L490.9,296.1 L491.4,296.1 L491.9,296.0 L492.4,296.0 L492.9,296.0 L493.4,296.0 L493.9,296.0 L494.4,296.0 L494.9,296.0 L495.4,296.0 L495.9,296.0 L496.4,296.0 L496.9,296.0 L497.4,296.0 L497.9,296.0 L498.4,296.0 L498.9,296.0 L499.4,296.0 L499.9,296.0 L500.4,296.0 L500.9,296.0 L501.4,296.0 L501.9,296.0 L502.4,296.0 L502.9,296.0 L503.4,296.0 L503.9,295.9 L504.4,295.9 L504.9,295.9 L505.4,295.9 L505.9,295.9 L506.4,295.9 L506.9,295.9 L507.4,295.9 L507.9,295.9 L508.4,295.9 L508.9,295.9 L509.4,295.9 L509.9,295.9 L510.4,295.9 L510.9,295.9 L511.4,295.9 L511.9,295.9 L512.4,295.9 L512.9,295.9 L513.4,295.9 L513.9,295.9 L514.4,295.9 L514.9,295.9 L515.4,295.9 L515.9,295.8 L516.4,295.8 L516.9,295.8 L517.4,295.8 L517.9,295.8 L518.4,295.8 L518.9,295.8 L519.4,295.8 L519.9,295.8 L520.4,295.8" fill="none" stroke="#0a5fd0" stroke-width="3.4" stroke-dasharray="20.5 4"/>
<path d="M520.4,295.8 L520.9,295.8 L521.4,295.8 L521.9,295.8 L522.4,295.8 L522.9,295.8 L523.4,295.8 L523.9,295.8 L524.4,295.7 L524.9,295.7 L525.4,295.7 L525.9,295.7 L526.4,295.7 L526.9,295.7 L527.4,295.7 L527.9,295.7 L528.4,295.7 L528.9,295.7 L529.4,295.7 L529.9,295.7 L530.4,295.7 L530.9,295.7 L531.4,295.7 L531.9,295.7 L532.4,295.7 L532.9,295.6 L533.4,295.6 L533.9,295.6 L534.4,295.6 L534.9,295.6 L535.4,295.6 L535.9,295.6 L536.4,295.6 L536.9,295.6 L537.4,295.6 L537.9,295.6 L538.4,295.6 L538.9,295.6 L539.4,295.6 L539.9,295.6 L540.4,295.6 L540.9,295.6 L541.4,295.5 L541.9,295.5 L542.4,295.5 L542.9,295.5 L543.4,295.5 L543.9,295.5 L544.4,295.5 L544.9,295.5 L545.4,295.5 L545.9,295.5 L546.4,295.5 L546.9,295.5 L547.4,295.5 L547.9,295.5 L548.4,295.5 L548.9,295.5 L549.4,295.5 L549.9,295.4 L550.4,295.4 L550.9,295.4 L551.4,295.4 L551.9,295.4 L552.4,295.4 L552.9,295.4 L553.4,295.4 L553.9,295.4 L554.4,295.4 L554.9,295.4 L555.4,295.4 L555.9,295.4 L556.4,295.4 L556.9,295.4 L557.4,295.4 L557.9,295.4 L558.4,295.3 L558.9,295.3 L559.4,295.3 L559.9,295.3 L560.4,295.3 L560.9,295.3 L561.4,295.3 L561.9,295.3 L562.4,295.3 L562.9,295.3 L563.4,295.3 L563.9,295.3 L564.4,295.3 L564.9,295.3 L565.4,295.3 L565.9,295.3 L566.4,295.2 L566.9,295.2 L567.4,295.2 L567.9,295.2 L568.4,295.2 L568.9,295.2 L569.4,295.2 L569.9,295.2 L570.4,295.2 L570.9,295.2 L571.4,295.2 L571.9,295.2 L572.4,295.2 L572.9,295.2 L573.4,295.2 L573.9,295.2 L574.4,295.1 L574.9,295.1 L575.4,295.1 L575.9,295.1 L576.4,295.1 L576.9,295.1 L577.4,295.1 L577.9,295.1 L578.4,295.1 L578.9,295.1 L579.4,295.1 L579.9,295.1 L580.4,295.1 L580.9,295.1 L581.4,295.1 L581.9,295.0 L582.4,295.0 L582.9,295.0 L583.4,295.0 L583.9,295.0 L584.4,295.0 L584.9,295.0 L585.4,295.0 L585.9,295.0 L586.4,295.0 L586.9,295.0 L587.4,295.0 L587.9,295.0 L588.4,295.0 L588.9,294.9 L589.4,294.9 L589.9,294.9 L590.4,294.9 L590.9,294.9 L591.4,294.9 L591.9,294.9 L592.4,294.9 L592.9,294.9 L593.4,294.9 L593.9,294.9 L594.4,294.9 L594.9,294.8 L595.4,294.8 L595.9,294.8 L596.4,294.8 L596.9,294.8 L597.4,294.8 L597.9,294.8 L598.4,294.8 L598.9,294.8 L599.4,294.8 L599.9,294.8 L600.4,294.8 L600.9,294.7 L601.4,294.7 L601.9,294.7 L602.4,294.7 L602.9,294.7 L603.4,294.7 L603.9,294.7 L604.4,294.7 L604.9,294.7 L605.4,294.7 L605.9,294.7 L606.4,294.6 L606.9,294.6 L607.4,294.6 L607.9,294.6 L608.4,294.6 L608.9,294.6 L609.4,294.6 L609.9,294.6 L610.4,294.6 L610.9,294.6 L611.4,294.5 L611.9,294.5 L612.4,294.5 L612.9,294.5 L613.4,294.5 L613.9,294.5 L614.4,294.5 L614.9,294.5 L615.4,294.5 L615.9,294.5 L616.4,294.5 L616.9,294.4 L617.4,294.4 L617.9,294.4 L618.4,294.4 L618.9,294.4 L619.4,294.4 L619.9,294.4 L620.4,294.4 L620.9,294.4 L621.4,294.3 L621.9,294.3 L622.4,294.3 L622.9,294.3 L623.4,294.3 L623.9,294.3 L624.4,294.3 L624.9,294.3 L625.4,294.3 L625.9,294.3 L626.4,294.2 L626.9,294.2 L627.4,294.2 L627.9,294.2 L628.4,294.2 L628.9,294.2 L629.4,294.2 L629.9,294.2 L630.4,294.2 L630.9,294.2 L631.4,294.1 L631.9,294.1 L632.4,294.1 L632.9,294.1 L633.4,294.1 L633.9,294.1 L634.4,294.1 L634.9,294.1 L635.4,294.1 L635.9,294.0 L636.4,294.0 L636.9,294.0 L637.4,294.0 L637.9,294.0 L638.4,294.0 L638.9,294.0 L639.4,294.0 L639.9,294.0 L640.4,293.9 L640.9,293.9 L641.4,293.9 L641.9,293.9 L642.4,293.9 L642.9,293.9 L643.4,293.9 L643.9,293.9 L644.4,293.9 L644.9,293.9 L645.4,293.8 L645.9,293.8 L646.4,293.8 L646.9,293.8 L647.4,293.8 L647.9,293.8 L648.4,293.8 L648.9,293.8 L649.4,293.8 L649.9,293.7 L650.4,293.7 L650.9,293.7 L651.4,293.7 L651.9,293.7 L652.4,293.7 L652.9,293.7 L653.4,293.7 L653.9,293.7 L654.4,293.7 L654.9,293.6 L655.4,293.6 L655.9,293.6 L656.4,293.6 L656.9,293.6 L657.4,293.6 L657.9,293.6 L658.4,293.6 L658.9,293.6 L659.4,293.5 L659.9,293.5 L660.4,293.5 L660.9,293.5 L661.4,293.5 L661.9,293.5 L662.4,293.5 L662.9,293.5 L663.4,293.5 L663.9,293.5 L664.4,293.4 L664.9,293.4 L665.4,293.4 L665.9,293.4 L666.4,293.4 L666.9,293.4 L667.4,293.4 L667.9,293.4 L668.4,293.4 L668.9,293.4 L669.4,293.3 L669.9,293.3 L670.4,293.3 L670.9,293.3 L671.4,293.3 L671.9,293.3 L672.4,293.3 L672.9,293.3 L673.4,293.3 L673.9,293.3 L674.4,293.2 L674.9,293.2 L675.4,293.2 L675.9,293.2 L676.4,293.2 L676.9,293.2 L677.4,293.2 L677.9,293.2 L678.4,293.2 L678.9,293.2 L679.4,293.2 L679.9,293.1 L680.4,293.1 L680.9,293.1 L681.4,293.1 L681.9,293.1 L682.4,293.1 L682.9,293.1 L683.4,293.1 L683.9,293.1 L684.4,293.1 L684.9,293.1 L685.4,293.0 L685.9,293.0 L686.4,293.0 L686.9,293.0 L687.4,293.0 L687.9,293.0 L688.4,293.0 L688.9,293.0 L689.4,293.0 L689.9,293.0 L690.4,293.0 L690.9,293.0 L691.4,292.9 L691.9,292.9 L692.4,292.9 L692.9,292.9 L693.4,292.9 L693.9,292.9 L694.4,292.9 L694.9,292.9 L695.4,292.9 L695.9,292.9 L696.4,292.9 L696.9,292.9 L697.4,292.9 L697.9,292.8 L698.4,292.8 L698.9,292.8 L699.4,292.8 L699.9,292.8 L700.4,292.8 L700.9,292.8 L701.4,292.8 L701.9,292.8 L702.4,292.8 L702.9,292.8 L703.4,292.8 L703.9,292.8 L704.4,292.8 L704.9,292.8 L705.4,292.7 L705.9,292.7 L706.4,292.7 L706.9,292.7 L707.4,292.7 L707.9,292.7 L708.4,292.7 L708.9,292.7 L709.4,292.7 L709.9,292.7 L710.4,292.7 L710.9,292.7 L711.4,292.7 L711.9,292.7 L712.4,292.7 L712.9,292.7 L713.4,292.7 L713.9,292.7 L714.4,292.6 L714.9,292.6 L715.4,292.6 L715.9,292.6 L716.4,292.6 L716.9,292.6 L717.4,292.6 L717.9,292.6 L718.4,292.6 L718.9,292.6 L719.4,292.6 L719.9,292.6 L720.4,292.6 L720.9,292.6 L721.4,292.6 L721.9,292.6 L722.4,292.6 L722.9,292.6 L723.4,292.6 L723.9,292.6 L724.4,292.6 L724.9,292.6 L725.4,292.6 L725.9,292.6 L726.4,292.6 L726.9,292.5 L727.4,292.5 L727.9,292.5 L728.4,292.5 L728.9,292.5 L729.4,292.5 L729.9,292.5 L730.4,292.5 L730.9,292.5 L731.4,292.5 L731.9,292.5 L732.4,292.5 L732.9,292.5 L733.4,292.5 L733.9,292.5 L734.4,292.5 L734.9,292.5 L735.4,292.5 L735.9,292.5 L736.4,292.5 L736.9,292.5 L737.4,292.5 L737.9,292.5 L738.4,292.5 L738.9,292.5 L739.4,292.5 L739.9,292.5 L740.4,292.5 L740.9,292.5 L741.4,292.5 L741.9,292.5 L742.4,292.5 L742.9,292.5 L743.4,292.5 L743.9,292.4 L744.4,292.4 L744.9,292.4 L745.4,292.4 L745.9,292.4 L746.4,292.4 L746.9,292.4 L747.4,292.4 L747.9,292.4 L748.4,292.4 L748.9,292.4 L749.4,292.4 L749.9,292.4 L750.4,292.4 L750.9,292.4 L751.4,292.4 L751.9,292.4 L752.4,292.4 L752.9,292.4 L753.4,292.4 L753.9,292.4 L754.4,292.4 L754.9,292.4 L755.4,292.4 L755.9,292.4 L756.4,292.4 L756.9,292.4 L757.4,292.4 L757.9,292.4 L758.4,292.4 L758.9,292.4 L759.4,292.4 L759.9,292.4 L760.4,292.4 L760.9,292.4 L761.4,292.4 L761.9,292.4 L762.4,292.4 L762.9,292.4 L763.4,292.4 L763.9,292.4 L764.4,292.4 L764.9,292.4 L765.4,292.4 L765.9,292.4 L766.4,292.4 L766.9,292.4 L767.4,292.3 L767.9,292.3 L768.4,292.3 L768.9,292.3 L769.4,292.3 L769.9,292.3 L770.4,292.3 L770.9,292.3 L771.4,292.3 L771.9,292.3 L772.4,292.3 L772.9,292.3 L773.4,292.3 L773.9,292.3 L774.4,292.3 L774.9,292.3 L775.4,292.3 L775.9,292.3 L776.4,292.3 L776.9,292.3 L777.4,292.3 L777.9,292.3 L778.4,292.3 L778.9,292.3 L779.4,292.3 L779.9,292.3 L780.4,292.3 L780.9,292.3 L781.4,292.3 L781.9,292.3 L782.4,292.3 L782.9,292.3 L783.4,292.3 L783.9,292.3 L784.4,292.3 L784.9,292.3 L785.4,292.3 L785.9,292.3 L786.4,292.3 L786.9,292.3 L787.4,292.3 L787.9,292.3 L788.4,292.3 L788.9,292.3 L789.4,292.3 L789.9,292.3 L790.4,292.3 L790.9,292.3 L791.4,292.3 L791.9,292.3 L792.4,292.3 L792.9,292.3 L793.4,292.3 L793.9,292.3 L794.4,292.3 L794.9,292.3 L795.4,292.3 L795.9,292.3 L796.4,292.3 L796.9,292.3 L797.4,292.3 L797.9,292.3 L798.4,292.3 L798.9,292.3 L799.4,292.3 L799.9,292.3 L800.4,292.2 L800.9,292.2 L801.4,292.2 L801.9,292.2 L802.4,292.2 L802.9,292.2 L803.4,292.2 L803.9,292.2 L804.4,292.2 L804.9,292.2 L805.4,292.2 L805.9,292.2 L806.4,292.2 L806.9,292.2 L807.4,292.2 L807.9,292.2 L808.4,292.2 L808.9,292.2 L809.4,292.2 L809.9,292.2 L810.4,292.2 L810.9,292.2 L811.4,292.2 L811.9,292.2 L812.4,292.2 L812.9,292.2 L813.4,292.2 L813.9,292.2 L814.4,292.2 L814.9,292.2 L815.4,292.2 L815.9,292.2 L816.4,292.2 L816.9,292.2 L817.4,292.2 L817.9,292.2 L818.4,292.2 L818.9,292.2 L819.4,292.2 L819.9,292.2 L820.4,292.2 L820.9,292.2 L821.4,292.2 L821.9,292.2 L822.4,292.2 L822.9,292.2 L823.4,292.2 L823.9,292.2 L824.4,292.2 L824.9,292.2 L825.4,292.2 L825.9,292.2 L826.4,292.2 L826.9,292.2 L827.4,292.2 L827.9,292.2 L828.4,292.2 L828.9,292.2 L829.4,292.2 L829.9,292.2 L830.4,292.2 L830.9,292.1 L831.4,292.1 L831.9,292.1 L832.4,292.1 L832.9,292.1 L833.4,292.1 L833.9,292.1 L834.4,292.1 L834.9,292.1 L835.4,292.1 L835.9,292.1 L836.4,292.1 L836.9,292.1 L837.4,292.1 L837.9,292.1 L838.4,292.1 L838.9,292.1 L839.4,292.1 L839.9,292.1 L840.4,292.1 L840.9,292.1 L841.4,292.1 L841.9,292.1 L842.4,292.1 L842.9,292.1 L843.4,292.1 L843.9,292.1 L844.4,292.1 L844.9,292.1 L845.4,292.1 L845.9,292.1 L846.4,292.1 L846.9,292.1 L847.4,292.1 L847.9,292.1 L848.4,292.1 L848.9,292.1 L849.4,292.1 L849.9,292.1 L850.4,292.1 L850.9,292.1 L851.4,292.1 L851.9,292.1 L852.4,292.0 L852.9,292.0 L853.4,292.0 L853.9,292.0 L854.4,292.0 L854.9,292.0 L855.4,292.0 L855.9,292.0 L856.4,292.0 L856.9,292.0 L857.4,292.0 L857.9,292.0 L858.4,292.0 L858.9,292.0 L859.4,292.0 L859.9,292.0 L860.4,292.0 L860.9,292.0 L861.4,292.0 L861.9,292.0 L862.4,292.0 L862.9,292.0 L863.4,292.0 L863.9,292.0 L864.4,292.0 L864.9,292.0 L865.4,292.0 L865.9,292.0 L866.4,292.0 L866.9,292.0 L867.4,292.0 L867.9,291.9 L868.4,291.9 L868.9,291.9 L869.4,291.9 L869.9,291.9 L870.4,291.9 L870.9,291.9 L871.4,291.9 L871.9,291.9 L872.4,291.9 L872.9,291.9 L873.4,291.9 L873.9,291.9 L874.4,291.9 L874.9,291.9 L875.4,291.9 L875.9,291.9 L876.4,291.9 L876.9,291.9 L877.4,291.9 L877.9,291.9 L878.4,291.9 L878.9,291.9 L879.4,291.9 L879.9,291.8 L880.4,291.8 L880.9,291.8 L881.4,291.8 L881.9,291.8 L882.4,291.8 L882.9,291.8 L883.4,291.8 L883.9,291.8 L884.4,291.8 L884.9,291.8 L885.4,291.8 L885.9,291.8 L886.4,291.8 L886.9,291.8 L887.4,291.8 L887.9,291.8 L888.4,291.8 L888.9,291.7 L889.4,291.7 L889.9,291.7 L890.4,291.7 L890.9,291.7 L891.4,291.7 L891.9,291.7 L892.4,291.7 L892.9,291.7 L893.4,291.7 L893.9,291.6 L894.4,291.6 L894.9,291.6 L895.4,291.6 L895.9,291.6 L896.4,291.6 L896.9,291.6 L897.4,291.6 L897.9,291.5 L898.4,291.5 L898.9,291.5 L899.4,291.5 L899.9,291.5 L900.4,291.5 L900.9,291.4 L901.4,291.4 L901.9,291.4 L902.4,291.4 L902.9,291.4 L903.4,291.4 L903.9,291.3 L904.4,291.3 L904.9,291.3 L905.4,291.3 L905.9,291.3 L906.4,291.3 L906.9,291.2 L907.4,291.2 L907.9,291.2 L908.4,291.2 L908.9,291.2 L909.4,291.1 L909.9,291.1 L910.4,291.1 L910.9,291.1 L911.4,291.1 L911.9,291.1 L912.4,291.0 L912.9,291.0 L913.4,291.0 L913.9,291.0 L914.4,291.0 L914.9,290.9 L915.4,290.9 L915.9,290.9 L916.4,290.9 L916.9,290.9 L917.4,290.8 L917.9,290.8 L918.4,290.8 L918.9,290.8 L919.4,290.8 L919.9,290.8 L920.4,290.7 L920.9,290.7 L921.4,290.7 L921.9,290.7 L922.4,290.7 L922.9,290.6 L923.4,290.6 L923.9,290.6" fill="none" stroke="#0a5fd0" stroke-width="3.2"/>
<path d="M72.8,759.7h7.0M72.8,747.5h7.0M72.8,735.3h7.0M72.8,723.0h15.0M72.8,710.8h7.0M72.8,698.6h7.0M72.8,686.4h7.0M72.8,674.2h15.0M72.8,662.0h7.0M72.8,649.8h7.0M72.8,637.5h7.0M72.8,625.3h15.0M72.8,613.1h7.0M72.8,600.9h7.0M72.8,588.7h7.0M72.8,576.5h15.0M72.8,564.3h7.0M72.8,552.0h7.0M72.8,539.8h7.0M72.8,527.6h15.0M97.9,771.9v-4.0M122.9,771.9v-4.0M148.0,771.9v-4.0M173.1,771.9v-4.0M198.2,771.9v-8.0M223.2,771.9v-4.0M248.3,771.9v-4.0M273.4,771.9v-4.0M298.5,771.9v-4.0M323.5,771.9v-8.0M348.6,771.9v-4.0M373.7,771.9v-4.0M398.8,771.9v-4.0M423.8,771.9v-4.0M448.9,771.9v-8.0M474.0,771.9v-4.0M499.1,771.9v-4.0M524.1,771.9v-4.0M549.2,771.9v-4.0M574.3,771.9v-8.0M599.4,771.9v-4.0M624.4,771.9v-4.0M649.5,771.9v-4.0M674.6,771.9v-4.0M699.7,771.9v-8.0M724.7,771.9v-4.0M749.8,771.9v-4.0M774.9,771.9v-4.0M800.0,771.9v-4.0M825.0,771.9v-8.0M850.1,771.9v-4.0M875.2,771.9v-4.0M900.3,771.9v-4.0M925.3,771.9v-4.0" stroke="#000" stroke-width="1.2" fill="none"/>
<path d="M92.5,769.7 L95.0,765.0 L97.5,759.7 L98.6,752.0 L99.5,737.2 L100.3,752.0 L101.2,761.0 L101.5,757.4 L102.2,757.9 L102.9,755.2 L103.6,751.4 L104.3,748.3 L105.0,743.3 L105.7,754.7 L106.4,757.4 L107.1,755.8 L107.8,762.1 L108.5,756.5 L109.2,754.9 L109.9,754.3 L110.6,756.4 L111.3,751.7 L112.0,754.9 L112.7,760.1 L113.4,761.1 L114.1,758.2 L114.8,758.9 L115.5,755.5 L116.2,755.2 L116.9,756.3 L117.6,756.4 L118.3,756.3 L119.0,759.1 L119.7,751.4 L120.4,750.3 L121.1,751.5 L121.8,750.6 L122.5,751.5 L123.2,751.3 L123.9,750.9 L124.6,750.7 L125.3,743.8 L126.0,742.6 L126.7,751.5 L127.4,751.7 L128.1,747.0 L128.8,735.7 L129.5,737.6 L130.2,736.6 L130.9,740.5 L131.6,731.5 L132.3,733.5 L133.0,742.1 L133.7,737.9 L134.4,726.7 L135.1,723.4 L135.8,735.1 L136.5,720.8 L137.2,724.4 L137.9,730.5 L138.6,734.6 L139.3,731.8 L140.0,723.0 L140.7,720.4 L141.4,729.6 L142.0,731.0 L142.6,690.0 L143.1,667.3 L144.0,676.0 L145.0,682.0 L146.0,660.0 L146.4,592.0 L147.6,575.0 L148.3,552.0 L148.9,545.0 L149.4,534.2 L150.1,541.0 L150.2,575.0 L149.0,610.0 L150.0,636.0 L150.6,600.0 L150.9,548.0 L151.1,640.0 L151.3,675.0 L152.6,678.0 L153.0,700.0 L153.6,737.0 L155.0,750.0 L157.4,755.5 L160.0,757.2 L160.0,757.6 L161.5,756.9 L163.0,757.2 L164.5,757.7 L166.0,758.2 L167.5,757.1 L169.0,757.2 L170.5,757.3 L172.0,757.9 L173.5,757.2 L175.0,757.9 L176.5,756.7 L178.0,757.1 L179.5,757.1 L181.0,757.6 L182.5,757.7 L184.0,756.4 L185.5,756.9 L187.0,757.8 L188.5,757.7 L190.0,757.6 L191.5,759.2 L193.0,759.2 L194.5,759.6 L196.0,759.4 L197.5,760.5 L199.0,760.2 L200.5,761.2 L202.0,760.6 L203.5,760.9 L205.0,761.8 L206.5,761.6 L208.0,762.5 L209.5,762.5 L211.0,762.1 L212.5,762.9 L214.0,762.9 L215.5,763.7 L217.0,763.2 L218.5,763.5 L220.0,764.6 L221.5,765.3 L223.0,765.4 L224.5,764.7 L226.0,764.9 L227.5,765.7 L229.0,765.0 L230.5,764.8 L232.0,765.5 L233.5,765.8 L235.0,765.3 L236.5,765.0 L238.0,765.3 L239.5,766.5 L241.0,765.9 L242.5,766.4 L244.0,766.7 L245.5,767.1 L247.0,766.8 L248.5,767.4 L250.0,766.8 L251.5,767.3 L253.0,767.1 L254.5,768.4 L256.0,767.9 L257.5,767.8 L259.0,768.1" fill="none" stroke="#8f0090" stroke-width="3.4" stroke-linejoin="round"/>
<path d="M72.8,973.3h5.0M72.8,963.3h5.0M72.8,953.2h5.0M72.8,943.1h10.2M72.8,933.0h5.0M72.8,923.0h5.0M72.8,912.9h5.0M72.8,902.8h10.2M72.8,892.8h5.0M72.8,882.7h5.0M72.8,872.6h5.0M72.8,862.5h10.2M72.8,852.5h5.0M72.8,842.4h5.0M72.8,832.3h5.0M72.8,822.3h10.2M72.8,812.2h5.0M72.8,802.1h5.0M72.8,792.0h5.0M72.8,782.0h10.2M97.9,983.4v-4.0M122.9,983.4v-4.0M148.0,983.4v-4.0M173.1,983.4v-4.0M198.2,983.4v-8.0M223.2,983.4v-4.0M248.3,983.4v-4.0M273.4,983.4v-4.0M298.5,983.4v-4.0M323.5,983.4v-8.0M348.6,983.4v-4.0M373.7,983.4v-4.0M398.8,983.4v-4.0M423.8,983.4v-4.0M448.9,983.4v-8.0M474.0,983.4v-4.0M499.1,983.4v-4.0M524.1,983.4v-4.0M549.2,983.4v-4.0M574.3,983.4v-8.0M599.4,983.4v-4.0M624.4,983.4v-4.0M649.5,983.4v-4.0M674.6,983.4v-4.0M699.7,983.4v-8.0M724.7,983.4v-4.0M749.8,983.4v-4.0M774.9,983.4v-4.0M800.0,983.4v-4.0M825.0,983.4v-8.0M850.1,983.4v-4.0M875.2,983.4v-4.0M900.3,983.4v-4.0M925.3,983.4v-4.0" stroke="#000" stroke-width="1.2" fill="none"/>
<path d="M262.0,983.2 L262.5,983.2 L263.0,983.2 L263.5,983.2 L264.0,983.2 L264.5,983.2 L265.0,983.2 L265.5,983.2 L266.0,983.2 L266.5,983.2 L267.0,983.2 L267.5,983.2 L268.0,983.2 L268.5,983.2 L269.0,983.2 L269.5,983.2 L270.0,983.2 L270.5,983.2 L271.0,983.2 L271.5,983.2 L272.0,983.2 L272.5,983.2 L273.0,983.1 L273.5,983.1 L274.0,983.1 L274.5,983.1 L275.0,983.1 L275.5,983.1 L276.0,983.1 L276.5,983.1 L277.0,983.1 L277.5,983.1 L278.0,983.1 L278.5,983.1 L279.0,983.1 L279.5,983.1 L280.0,983.0 L280.5,983.0 L281.0,983.0 L281.5,983.0 L282.0,983.0 L282.5,983.0 L283.0,982.9 L283.5,982.7 L284.0,982.6 L284.5,982.4 L285.0,982.2 L285.5,982.0 L286.0,981.7 L286.5,981.5 L287.0,981.3 L287.5,981.1 L288.0,980.9 L288.5,980.8 L289.0,980.7 L289.5,980.6 L290.0,980.6 L290.5,980.6 L291.0,980.6 L291.5,980.6 L292.0,980.6 L292.5,980.6 L293.0,980.6 L293.5,980.6 L294.0,980.7 L294.5,980.7 L295.0,980.7 L295.5,980.7 L296.0,980.7 L296.5,980.7 L297.0,980.7 L297.5,980.7 L298.0,980.8 L298.5,980.8 L299.0,980.8 L299.5,980.8 L300.0,980.8 L300.5,980.8 L301.0,980.8 L301.5,980.8 L302.0,980.9 L302.5,980.9 L303.0,980.9 L303.5,980.9 L304.0,980.9 L304.5,980.9 L305.0,981.0 L305.5,981.0 L306.0,981.0 L306.5,981.0 L307.0,981.0 L307.5,981.0 L308.0,981.1 L308.5,981.1 L309.0,981.1 L309.5,981.1 L310.0,981.1 L310.5,981.1 L311.0,981.2 L311.5,981.2 L312.0,981.2 L312.5,981.2 L313.0,981.2 L313.5,981.2 L314.0,981.2 L314.5,981.2 L315.0,981.2 L315.5,981.2 L316.0,981.2 L316.5,981.2 L317.0,981.1 L317.5,981.1 L318.0,981.1 L318.5,981.1 L319.0,981.0 L319.5,981.0 L320.0,981.0 L320.5,980.9 L321.0,980.9 L321.5,980.8 L322.0,980.8 L322.5,980.7 L323.0,980.6 L323.5,980.6 L324.0,980.5 L324.5,980.5 L325.0,980.4 L325.5,980.3 L326.0,980.3 L326.5,980.2 L327.0,980.1 L327.5,980.1 L328.0,980.0 L328.5,979.9 L329.0,979.8 L329.5,979.8 L330.0,979.7 L330.5,979.6 L331.0,979.5 L331.5,979.4 L332.0,979.3 L332.5,979.1 L333.0,979.0 L333.5,978.8 L334.0,978.6 L334.5,978.4 L335.0,978.3 L335.5,978.1 L336.0,977.9 L336.5,977.7 L337.0,977.6 L337.5,977.4 L338.0,977.3 L338.5,977.2 L339.0,977.1 L339.5,977.0 L340.0,976.9 L340.5,976.9 L341.0,976.9 L341.5,976.9 L342.0,976.9 L342.5,976.9 L343.0,977.0 L343.5,977.0 L344.0,977.0 L344.5,977.1 L345.0,977.1 L345.5,977.2 L346.0,977.2 L346.5,977.3 L347.0,977.4 L347.5,977.4 L348.0,977.5 L348.5,977.6 L349.0,977.7 L349.5,977.7 L350.0,977.8 L350.5,977.9 L351.0,978.0 L351.5,978.1 L352.0,978.2 L352.5,978.3 L353.0,978.4 L353.5,978.6 L354.0,978.8 L354.5,979.0 L355.0,979.2 L355.5,979.5 L356.0,979.7 L356.5,979.9 L357.0,980.1 L357.5,980.4 L358.0,980.6 L358.5,980.7 L359.0,980.9 L359.5,981.0 L360.0,981.1 L360.5,981.2 L361.0,981.2 L361.5,981.2 L362.0,981.2 L362.5,981.2 L363.0,981.2 L363.5,981.2 L364.0,981.2 L364.5,981.2 L365.0,981.2 L365.5,981.2 L366.0,981.2 L366.5,981.2 L367.0,981.2 L367.5,981.2 L368.0,981.2 L368.5,981.2 L369.0,981.2 L369.5,981.2 L370.0,981.2 L370.5,981.2 L371.0,981.2 L371.5,981.2 L372.0,981.2 L372.5,981.2 L373.0,981.2 L373.5,981.2 L374.0,981.2 L374.5,981.2 L375.0,981.2 L375.5,981.2 L376.0,981.2 L376.5,981.2 L377.0,981.2 L377.5,981.2 L378.0,981.2 L378.5,981.2 L379.0,981.2 L379.5,981.2 L380.0,981.2 L380.5,981.2 L381.0,981.1 L381.5,981.0 L382.0,980.9 L382.5,980.8 L383.0,980.7 L383.5,980.6 L384.0,980.4 L384.5,980.2 L385.0,980.0 L385.5,979.8 L386.0,979.6 L386.5,979.4 L387.0,979.2 L387.5,979.0 L388.0,978.7 L388.5,978.5 L389.0,978.2 L389.5,978.0 L390.0,977.7 L390.5,977.4 L391.0,977.2 L391.5,976.9 L392.0,976.5 L392.5,976.1 L393.0,975.7 L393.5,975.3 L394.0,974.9 L394.5,974.4 L395.0,973.9 L395.5,973.4 L396.0,972.8 L396.5,972.3 L397.0,971.7 L397.5,971.1 L398.0,970.5 L398.5,969.9 L399.0,969.3 L399.5,968.6 L400.0,967.9 L400.5,967.2 L401.0,966.4 L401.5,965.6 L402.0,964.8 L402.5,963.9 L403.0,962.9 L403.5,962.0 L404.0,960.9 L404.5,959.8 L405.0,958.7 L405.5,957.5 L406.0,956.2 L406.5,954.8 L407.0,953.2 L407.5,951.3 L408.0,949.4 L408.5,947.3 L409.0,945.0 L409.5,942.7 L410.0,940.3 L410.5,937.9 L411.0,935.3 L411.5,932.4 L412.0,929.3 L412.5,926.2 L413.0,923.0 L413.5,920.7 L414.0,920.6 L414.5,920.5 L415.0,920.3 L415.5,919.7 L416.0,919.3 L416.5,919.1 L417.0,919.0 L417.5,918.9 L418.0,918.7 L418.5,918.1 L419.0,917.8 L419.5,917.9 L420.0,917.7 L420.5,917.3 L421.0,917.1 L421.5,917.3 L422.0,917.5 L422.5,917.5 L423.0,917.4 L423.5,917.2 L424.0,916.9 L424.5,916.3 L425.0,916.0 L425.5,916.0 L426.0,915.9 L426.5,915.6 L427.0,915.4 L427.5,915.2 L428.0,915.2 L428.5,915.3 L429.0,915.1 L429.5,914.4 L430.0,914.1 L430.5,914.4 L431.0,914.4 L431.5,914.1 L432.0,914.0 L432.5,914.1 L433.0,914.0 L433.5,913.7 L434.0,913.4 L434.5,913.1 L435.0,913.0 L435.5,913.1 L436.0,913.1 L436.5,913.1 L437.0,912.9 L437.5,912.7 L438.0,912.6 L438.5,912.6 L439.0,912.4 L439.5,912.2 L440.0,911.8 L440.5,911.5 L441.0,911.4 L441.5,911.9 L442.0,912.1 L442.5,911.9 L443.0,911.8 L443.5,911.6 L444.0,911.5 L444.5,911.4 L445.0,911.3 L445.5,911.4 L446.0,911.4 L446.5,911.0 L447.0,910.8 L447.5,910.6 L448.0,910.6 L448.5,910.6 L449.0,910.7 L449.5,910.8 L450.0,910.7 L450.5,910.2 L451.0,910.1 L451.5,910.4 L452.0,910.5 L452.5,910.1 L453.0,909.9 L453.5,909.7 L454.0,909.8 L454.5,910.1 L455.0,910.2 L455.5,909.9 L456.0,909.6 L456.5,909.4 L457.0,909.2 L457.5,909.3 L458.0,909.5 L458.5,909.6 L459.0,909.7 L459.5,909.7 L460.0,909.6 L460.5,909.2 L461.0,909.1 L461.5,909.1 L462.0,909.2 L462.5,909.2 L463.0,909.1 L463.5,908.8 L464.0,908.6 L464.5,908.8 L465.0,908.8 L465.5,908.7 L466.0,908.5 L466.5,908.4 L467.0,908.3 L467.5,908.2 L468.0,908.2 L468.5,908.2 L469.0,908.2 L469.5,908.2 L470.0,908.1 L470.5,907.9 L471.0,907.8 L471.5,907.8 L472.0,907.9 L472.5,908.1 L473.0,908.1 L473.5,907.9 L474.0,907.8 L474.5,907.9 L475.0,907.9 L475.5,907.9 L476.0,907.9 L476.5,907.7 L477.0,907.7 L477.5,908.0 L478.0,907.9 L478.5,907.3 L479.0,907.0 L479.5,907.3 L480.0,907.3 L480.5,907.1 L481.0,907.1 L481.5,907.4 L482.0,907.6 L482.5,907.5 L483.0,907.2 L483.5,906.6 L484.0,906.2 L484.5,906.4 L485.0,906.5 L485.5,906.8 L486.0,906.9 L486.5,906.9 L487.0,906.9 L487.5,906.9 L488.0,906.8 L488.5,906.6 L489.0,906.5 L489.5,906.6 L490.0,906.7 L490.5,906.7 L491.0,906.6 L491.5,906.5 L492.0,906.5 L492.5,906.6 L493.0,906.5 L493.5,905.9 L494.0,905.8 L494.5,906.3 L495.0,906.4 L495.5,906.1 L496.0,906.1 L496.5,906.4 L497.0,906.6 L497.5,906.3 L498.0,906.2 L498.5,906.1 L499.0,906.1 L499.5,906.3 L500.0,906.3 L500.5,906.1 L501.0,906.0 L501.5,906.0 L502.0,905.9 L502.5,905.8 L503.0,905.8 L503.5,906.1 L504.0,906.3 L504.5,906.4 L505.0,906.5 L505.5,906.6 L506.0,906.5 L506.5,906.3 L507.0,906.3 L507.5,906.5 L508.0,906.5 L508.5,906.4 L509.0,906.2 L509.5,906.2 L510.0,906.3 L510.5,906.4 L511.0,906.5 L511.5,906.6 L512.0,906.5 L512.5,906.3 L513.0,906.1 L513.5,906.1 L514.0,906.1 L514.5,906.2 L515.0,906.2 L515.5,906.2 L516.0,906.2 L516.5,906.0 L517.0,906.0 L517.5,906.4 L518.0,906.5 L518.5,906.2 L519.0,906.1 L519.5,906.3 L520.0,906.3 L520.5,906.1 L521.0,906.0 L521.5,906.2 L522.0,906.3 L522.5,906.3 L523.0,906.3 L523.5,906.1 L524.0,906.2 L524.5,906.7 L525.0,906.8 L525.5,906.5 L526.0,906.4 L526.5,906.7 L527.0,906.8 L527.5,906.6 L528.0,906.4 L528.5,906.1 L529.0,906.0 L529.5,906.0 L530.0,906.1 L530.5,906.3 L531.0,906.3 L531.5,906.3 L532.0,906.2 L532.5,906.2 L533.0,906.2 L533.5,906.1 L534.0,906.0 L534.5,905.7 L535.0,905.7 L535.5,906.0 L536.0,906.0 L536.5,905.7 L537.0,905.6 L537.5,906.1 L538.0,906.3 L538.5,906.1 L539.0,906.0 L539.5,906.0 L540.0,906.0 L540.5,906.1 L541.0,906.2 L541.5,906.3 L542.0,906.3 L542.5,906.0 L543.0,905.8 L543.5,905.7 L544.0,905.7 L544.5,905.9 L545.0,905.9 L545.5,905.7 L546.0,905.7 L546.5,905.9 L547.0,906.2 L547.5,906.7 L548.0,906.8 L548.5,906.3 L549.0,906.2 L549.5,906.5 L550.0,906.5 L550.5,906.2 L551.0,906.1 L551.5,906.4 L552.0,906.5 L552.5,906.4 L553.0,906.4 L553.5,906.5 L554.0,906.6 L554.5,906.7 L555.0,906.8 L555.5,907.1 L556.0,907.1 L556.5,906.9 L557.0,906.7 L557.5,906.8 L558.0,906.8 L558.5,906.7 L559.0,906.8 L559.5,907.1 L560.0,907.4 L560.5,907.3 L561.0,907.4 L561.5,907.7 L562.0,907.8 L562.5,907.8 L563.0,907.9 L563.5,908.3 L564.0,908.3 L564.5,907.7 L565.0,907.5 L565.5,907.9 L566.0,908.2 L566.5,908.5 L567.0,908.6 L567.5,908.5 L568.0,908.4 L568.5,908.4 L569.0,908.5 L569.5,908.6 L570.0,908.7 L570.5,908.6 L571.0,908.6 L571.5,909.0 L572.0,909.4 L572.5,909.8 L573.0,910.1 L573.5,909.9 L574.0,909.7 L574.5,909.4 L575.0,909.2 L575.5,909.3 L576.0,909.5 L576.5,909.6 L577.0,909.9 L577.5,910.2 L578.0,910.3 L578.5,910.0 L579.0,909.9 L579.5,910.0 L580.0,910.2 L580.5,910.6 L581.0,910.8 L581.5,910.9 L582.0,910.8 L582.5,910.7 L583.0,910.6 L583.5,910.5 L584.0,910.5 L584.5,910.5 L585.0,910.6 L585.5,910.8 L586.0,910.9 L586.5,910.7 L587.0,910.8 L587.5,911.4 L588.0,911.7 L588.5,911.5 L589.0,911.5 L589.5,911.8 L590.0,912.0 L590.5,912.4 L591.0,912.5 L591.5,912.5 L592.0,912.3 L592.5,912.0 L593.0,911.9 L593.5,912.4 L594.0,912.7 L594.5,912.8 L595.0,912.8 L595.5,912.5 L596.0,912.4 L596.5,912.4 L597.0,912.5 L597.5,912.7 L598.0,912.8 L598.5,912.6 L599.0,912.7 L599.5,913.3 L600.0,913.4 L600.5,912.8 L601.0,912.6 L601.5,912.9 L602.0,913.2 L602.5,913.4 L603.0,913.5 L603.5,913.6 L604.0,913.7 L604.5,913.9 L605.0,914.0 L605.5,914.1 L606.0,914.1 L606.5,914.1 L607.0,914.2 L607.5,914.6 L608.0,914.5 L608.5,914.0 L609.0,913.9 L609.5,914.4 L610.0,914.6 L610.5,914.6 L611.0,914.6 L611.5,914.9 L612.0,915.0 L612.5,915.1 L613.0,915.1 L613.5,915.0 L614.0,915.0 L614.5,915.1 L615.0,915.3 L615.5,915.6 L616.0,915.8 L616.5,915.8 L617.0,915.8 L617.5,915.7 L618.0,915.8 L618.5,916.4 L619.0,916.7 L619.5,916.9 L620.0,916.7 L620.5,916.1 L621.0,915.9 L621.5,916.3 L622.0,916.7 L622.5,917.2 L623.0,917.4 L623.5,917.1 L624.0,917.0 L624.5,917.0 L625.0,917.0 L625.5,917.0 L626.0,917.0 L626.5,917.0 L627.0,917.0 L627.5,917.2 L628.0,917.3 L628.5,917.3 L629.0,917.4 L629.5,917.7 L630.0,917.8 L630.5,917.7 L631.0,917.7 L631.5,917.7 L632.0,917.7 L632.5,917.7 L633.0,917.7 L633.5,918.0 L634.0,918.2 L634.5,918.1 L635.0,918.1 L635.5,918.3 L636.0,918.5 L636.5,918.8 L637.0,919.0 L637.5,918.9 L638.0,918.9 L638.5,919.0 L639.0,919.1 L639.5,919.1 L640.0,919.2 L640.5,919.2 L641.0,919.2 L641.5,919.3 L642.0,919.3 L642.5,919.3 L643.0,919.5 L643.5,919.7 L644.0,919.8 L644.5,919.5 L645.0,919.5 L645.5,920.0 L646.0,920.3 L646.5,920.1 L647.0,920.0 L647.5,919.9 L648.0,919.9 L648.5,920.0 L649.0,920.1 L649.5,920.1 L650.0,920.2 L650.5,920.4 L651.0,920.5 L651.5,920.4 L652.0,920.5 L652.5,920.9 L653.0,921.0 L653.5,920.8 L654.0,920.5 L654.5,920.3 L655.0,920.3 L655.5,920.7 L656.0,920.8 L656.5,920.6 L657.0,920.7 L657.5,921.1 L658.0,921.4 L658.5,921.7 L659.0,921.8 L659.5,921.8 L660.0,921.7 L660.5,921.4 L661.0,921.3 L661.5,921.4 L662.0,921.7 L662.5,922.2 L663.0,922.5 L663.5,922.3 L664.0,922.1 L664.5,922.1 L665.0,922.2 L665.5,922.5 L666.0,922.7 L666.5,923.0 L667.0,923.2 L667.5,923.0 L668.0,922.9 L668.5,922.7 L669.0,922.7 L669.5,922.7 L670.0,922.8 L670.5,922.9 L671.0,922.9 L671.5,922.8 L672.0,922.7 L672.5,922.6 L673.0,922.7 L673.5,923.0 L674.0,923.1 L674.5,923.0 L675.0,923.0 L675.5,923.2 L676.0,923.3 L676.5,923.4 L677.0,923.6 L677.5,924.1 L678.0,924.2 L678.5,923.6 L679.0,923.4 L679.5,923.6 L680.0,923.7 L680.5,923.8 L681.0,923.9 L681.5,924.0 L682.0,924.2 L682.5,924.3 L683.0,924.3 L683.5,924.1 L684.0,924.0 L684.5,924.0 L685.0,924.0 L685.5,923.9 L686.0,923.9 L686.5,924.1 L687.0,924.3 L687.5,924.6 L688.0,924.8 L688.5,924.8 L689.0,924.7 L689.5,924.5 L690.0,924.5 L690.5,924.7 L691.0,924.9 L691.5,925.0 L692.0,925.1 L692.5,925.3 L693.0,925.3 L693.5,925.1 L694.0,925.1 L694.5,925.2 L695.0,925.2 L695.5,925.0 L696.0,924.9 L696.5,925.1 L697.0,925.4 L697.5,926.0 L698.0,926.1 L698.5,925.5 L699.0,925.2 L699.5,925.6 L700.0,925.9 L700.5,926.1 L701.0,926.2 L701.5,926.1 L702.0,926.1 L702.5,926.1 L703.0,926.1 L703.5,926.3 L704.0,926.5 L704.5,926.5 L705.0,926.6 L705.5,926.6 L706.0,926.6 L706.5,926.3 L707.0,926.3 L707.5,926.7 L708.0,926.9 L708.5,926.8 L709.0,926.8 L709.5,926.9 L710.0,927.1 L710.5,927.3 L711.0,927.5 L711.5,927.6 L712.0,927.7 L712.5,927.8 L713.0,927.8 L713.5,927.6 L714.0,927.6 L714.5,928.0 L715.0,928.2 L715.5,928.3 L716.0,928.4 L716.5,928.4 L717.0,928.5 L717.5,928.6 L718.0,928.6 L718.5,928.4 L719.0,928.3 L719.5,928.4 L720.0,928.5 L720.5,928.7 L721.0,928.7 L721.5,928.4 L722.0,928.4 L722.5,928.7 L723.0,928.9 L723.5,928.8 L724.0,928.8 L724.5,928.9 L725.0,928.9 L725.5,928.7 L726.0,928.7 L726.5,928.9 L727.0,929.1 L727.5,929.4 L728.0,929.6 L728.5,929.8 L729.0,930.0 L729.5,930.1 L730.0,930.1 L730.5,929.9 L731.0,929.9 L731.5,929.9 L732.0,929.9 L732.5,929.9 L733.0,930.0 L733.5,930.3 L734.0,930.4 L734.5,930.4 L735.0,930.4 L735.5,930.6 L736.0,930.9 L736.5,931.1 L737.0,931.2 L737.5,931.0 L738.0,930.7 L738.5,930.6 L739.0,930.5 L739.5,930.7 L740.0,930.8 L740.5,930.7 L741.0,930.8 L741.5,930.9 L742.0,931.2 L742.5,931.7 L743.0,931.9 L743.5,931.8 L744.0,931.6 L744.5,931.4 L745.0,931.4 L745.5,931.9 L746.0,932.2 L746.5,932.4 L747.0,932.4 L747.5,932.2 L748.0,932.1 L748.5,932.1 L749.0,932.1 L749.5,932.3 L750.0,932.4 L750.5,932.6 L751.0,932.8 L751.5,932.9 L752.0,933.0 L752.5,933.2 L753.0,933.3 L753.5,933.4 L754.0,933.5 L754.5,933.5 L755.0,933.6 L755.5,933.7 L756.0,933.8 L756.5,933.7 L757.0,933.6 L757.5,933.2 L758.0,933.2 L758.5,933.5 L759.0,933.8 L759.5,933.9 L760.0,934.0 L760.5,933.9 L761.0,934.0 L761.5,934.3 L762.0,934.4 L762.5,934.3 L763.0,934.2 L763.5,934.1 L764.0,934.3 L764.5,934.8 L765.0,935.1 L765.5,935.0 L766.0,935.0 L766.5,935.0 L767.0,935.0 L767.5,935.2 L768.0,935.4 L768.5,935.5 L769.0,935.5 L769.5,935.5 L770.0,935.3 L770.5,934.9 L771.0,934.8 L771.5,935.2 L772.0,935.4 L772.5,935.5 L773.0,935.6 L773.5,935.6 L774.0,935.7 L774.5,936.0 L775.0,936.2 L775.5,936.5 L776.0,936.5 L776.5,936.3 L777.0,936.2 L777.5,936.1 L778.0,936.4 L778.5,937.0 L779.0,937.2 L779.5,936.9 L780.0,936.6 L780.5,936.6 L781.0,936.7 L781.5,937.0 L782.0,937.3 L782.5,937.4 L783.0,937.4 L783.5,937.3 L784.0,937.3 L784.5,937.7 L785.0,937.8 L785.5,937.7 L786.0,937.6 L786.5,937.6 L787.0,937.7 L787.5,938.0 L788.0,938.2 L788.5,938.4 L789.0,938.4 L789.5,938.2 L790.0,938.2 L790.5,938.5 L791.0,938.6 L791.5,938.6 L792.0,938.9 L792.5,939.5 L793.0,939.6 L793.5,939.1 L794.0,938.9 L794.5,939.4 L795.0,939.6 L795.5,939.4 L796.0,939.3 L796.5,939.4 L797.0,939.5 L797.5,939.8 L798.0,939.9 L798.5,940.1 L799.0,940.2 L799.5,940.3 L800.0,940.4 L800.5,940.3 L801.0,940.2 L801.5,940.1 L802.0,940.1 L802.5,940.2 L803.0,940.4 L803.5,940.6 L804.0,940.8 L804.5,940.9 L805.0,941.1 L805.5,941.3 L806.0,941.4 L806.5,941.3 L807.0,941.4 L807.5,941.6 L808.0,941.7 L808.5,941.9 L809.0,942.0 L809.5,941.8 L810.0,941.6 L810.5,941.4 L811.0,941.4 L811.5,941.5 L812.0,941.6 L812.5,941.6 L813.0,941.9 L813.5,942.5 L814.0,942.8 L814.5,942.4 L815.0,942.4 L815.5,942.9 L816.0,943.1 L816.5,943.1 L817.0,943.2 L817.5,943.5 L818.0,943.6 L818.5,943.6 L819.0,943.6 L819.5,943.4 L820.0,943.4 L820.5,943.5 L821.0,943.6 L821.5,943.7 L822.0,943.9 L822.5,944.0 L823.0,944.0 L823.5,944.0 L824.0,944.0 L824.5,944.2 L825.0,944.5 L825.5,944.8 L826.0,944.9 L826.5,944.4 L827.0,944.3 L827.5,944.7 L828.0,944.9 L828.5,944.8 L829.0,944.9 L829.5,945.1 L830.0,945.4 L830.5,945.6 L831.0,945.7 L831.5,945.6 L832.0,945.7 L832.5,945.9 L833.0,945.9 L833.5,945.6 L834.0,945.7 L834.5,946.2 L835.0,946.5 L835.5,946.3 L836.0,946.3 L836.5,946.6 L837.0,946.8 L837.5,946.8 L838.0,946.6 L838.5,946.2 L839.0,946.2 L839.5,946.6 L840.0,946.9 L840.5,947.2 L841.0,947.5 L841.5,947.8 L842.0,948.0 L842.5,947.8 L843.0,947.8 L843.5,947.9 L844.0,947.9 L844.5,947.7 L845.0,947.8 L845.5,948.4 L846.0,948.8 L846.5,948.9 L847.0,949.0 L847.5,948.7 L848.0,948.6 L848.5,948.7 L849.0,948.6 L849.5,948.5 L850.0,948.6 L850.5,949.1 L851.0,949.6 L851.5,950.0 L852.0,950.2 L852.5,949.9 L853.0,949.8 L853.5,950.0 L854.0,950.1 L854.5,950.1 L855.0,950.0 L855.5,949.8 L856.0,949.9 L856.5,950.4 L857.0,950.6 L857.5,950.2 L858.0,950.1 L858.5,950.4 L859.0,950.6 L859.5,950.8 L860.0,951.0 L860.5,951.2 L861.0,951.3 L861.5,951.3 L862.0,951.4 L862.5,951.5 L863.0,951.5 L863.5,951.4 L864.0,951.3 L864.5,951.3 L865.0,951.4 L865.5,951.8 L866.0,952.0 L866.5,951.9 L867.0,951.9 L867.5,951.9 L868.0,951.9 L868.5,952.0 L869.0,952.2 L869.5,952.4 L870.0,952.5 L870.5,952.3 L871.0,952.3 L871.5,952.5 L872.0,952.6 L872.5,952.7 L873.0,952.9 L873.5,953.3 L874.0,953.6 L874.5,953.7 L875.0,953.9 L875.5,954.3 L876.0,954.3 L876.5,953.8 L877.0,953.6 L877.5,953.8 L878.0,954.1 L878.5,954.5 L879.0,954.7 L879.5,954.6 L880.0,954.6 L880.5,954.6 L881.0,954.9 L881.5,955.3 L882.0,955.5 L882.5,955.2 L883.0,955.0 L883.5,955.0 L884.0,955.0 L884.5,955.1 L885.0,955.2 L885.5,955.6 L886.0,955.9 L886.5,956.0 L887.0,956.0 L887.5,955.8 L888.0,955.7 L888.5,955.9 L889.0,956.1 L889.5,956.5 L890.0,956.7 L890.5,956.9 L891.0,956.9 L891.5,956.8 L892.0,956.8 L892.5,957.1 L893.0,957.4 L893.5,957.4 L894.0,957.4 L894.5,957.1 L895.0,957.0 L895.5,957.4 L896.0,957.7 L896.5,957.9 L897.0,958.0 L897.5,957.9 L898.0,957.8 L898.5,957.6 L899.0,957.7 L899.5,958.1 L900.0,958.5 L900.5,958.8 L901.0,959.0 L901.5,959.3 L902.0,959.2 L902.5,958.6 L903.0,958.6 L903.5,959.6 L904.0,959.9 L904.5,959.4 L905.0,959.2 L905.5,959.7 L906.0,960.0 L906.5,960.1 L907.0,960.3 L907.5,960.3 L908.0,960.3 L908.5,960.3 L909.0,960.2 L909.5,960.0 L910.0,960.1 L910.5,960.5 L911.0,960.7 L911.5,960.6 L912.0,960.4 L912.5,960.2 L913.0,960.5 L913.5,961.5 L914.0,962.0 L914.5,961.7 L915.0,961.7 L915.5,962.0 L916.0,962.0 L916.5,961.6 L917.0,961.6 L917.5,962.1 L918.0,962.5 L918.5,962.6 L919.0,962.7 L919.5,962.8 L920.0,962.8 L920.5,962.6 L921.0,962.4 L921.5,962.3 L922.0,962.4 L922.5,962.7 L923.0,962.7 L923.5,962.5 L924.0,962.4 L924.5,962.6 L925.0,962.9 L925.5,963.3 L926.0,963.5 L926.5,963.5 L927.0,963.5 L927.5,963.8 L928.0,964.0 L928.5,964.1 L929.0,964.4 L929.5,964.8 L930.0,965.1 L930.5,965.1 L931.0,965.1 L931.5,965.0 L932.0,965.1 L932.5,965.4 L933.0,965.5 L933.5,965.3 L934.0,965.2 L934.5,965.5 L935.0,965.7 L935.5,966.1 L936.0,966.2 L936.5,965.9 L937.0,965.9 L937.5,966.2 L938.0,966.4 L938.5,966.3 L939.0,966.5 L939.5,966.9 L940.0,967.3 L940.5,967.7 L941.0,967.8 L941.5,967.5 L942.0,967.5 L942.5,967.8 L943.0,968.0 L943.5,967.9 L944.0,968.0 L944.5,968.1 L945.0,968.2 L945.5,968.3 L946.0,968.6 L946.5,969.3 L947.0,969.8 L947.5,970.1 L948.0,970.3 L950.4,970.3 L950.4,983.4 L262,983.4Z" fill="url(#chk)" shape-rendering="crispEdges"/>
<path d="M211.8,938.4 L212.8,939.0 L213.8,938.5 L214.8,938.9 L215.8,939.3 L216.8,940.5 L217.8,940.2 L218.8,940.0 L219.8,940.5 L220.8,941.1 L221.8,940.3 L222.8,940.2 L223.8,940.7 L224.8,940.3 L225.8,940.2 L226.8,939.6 L227.8,940.3 L228.8,940.0 L229.8,939.4 L230.8,939.2 L231.8,937.9 L232.8,938.5 L233.8,937.9 L234.8,937.8 L235.8,937.4 L236.8,936.6 L237.8,935.7 L238.8,935.9 L239.8,935.0 L240.8,934.6 L241.8,934.0 L242.8,933.6 L243.8,932.4 L244.8,933.3 L245.8,932.6 L246.8,932.6 L247.8,932.6 L248.8,931.7 L249.8,930.8 L250.8,930.9 L251.8,930.6 L252.8,930.6 L253.8,930.6 L254.8,929.7 L255.8,930.4 L256.8,929.5 L257.8,930.0 L258.8,929.7 L259.8,929.5 L260.8,929.4 L261.8,929.0 L262.8,928.9 L263.8,928.3 L264.8,928.7 L265.8,929.2 L266.8,929.1 L267.8,928.7 L268.8,928.3 L269.8,927.6 L270.8,928.2 L271.8,927.5 L272.8,927.3 L273.8,927.1 L274.8,927.0 L275.8,926.7 L276.8,926.7 L277.8,926.2 L278.8,926.3 L279.8,927.0 L280.8,926.1 L281.8,925.9 L282.8,926.0 L283.8,925.9 L284.8,925.2 L285.8,925.4 L286.8,925.7 L287.8,925.4 L288.8,925.2 L289.8,925.6 L290.8,924.8 L291.8,925.0 L292.8,924.7 L293.8,925.4 L294.8,924.1 L295.8,924.5 L296.8,924.5 L297.8,924.9 L298.8,924.8 L299.8,925.1 L300.8,924.0 L301.8,924.8 L302.8,924.4 L303.8,924.2 L304.8,924.6 L305.8,924.0 L306.8,923.6 L307.8,924.2 L308.8,923.7 L309.8,924.0 L310.8,924.3 L311.8,924.3 L312.8,924.7 L313.8,924.0 L314.8,923.6 L315.8,923.8 L316.8,923.7 L317.8,923.6 L318.8,924.2 L319.8,923.8 L320.8,923.3 L321.8,924.2 L322.8,924.0 L323.8,924.1 L324.8,924.0 L325.8,924.2 L326.8,924.0 L327.8,924.4 L328.8,924.1 L329.8,924.1 L330.8,924.1 L331.8,923.5 L332.8,923.9 L333.8,923.9 L334.8,924.1 L335.8,923.5 L336.8,924.6 L337.8,924.0 L338.8,923.6 L339.8,923.4 L340.8,923.9 L341.8,924.0 L342.8,923.7 L343.8,924.0 L344.8,923.8 L345.8,924.2 L346.8,923.7 L347.8,924.0 L348.8,924.3 L349.8,924.9 L350.8,923.6 L351.8,923.8 L352.8,923.7 L353.8,924.3 L354.8,923.6 L355.8,923.8 L356.8,924.0 L357.8,923.7 L358.8,923.7 L359.8,923.8 L360.8,923.3 L361.8,923.5 L362.8,923.9 L363.8,924.1 L364.8,923.9 L365.8,923.4 L366.8,923.8 L367.8,924.3 L368.8,924.2 L369.8,924.0 L370.8,923.7 L371.8,924.2 L372.8,923.8 L373.8,923.6 L374.8,923.7 L375.8,924.5 L376.8,924.1 L377.8,924.4 L378.8,923.8 L379.8,924.3 L380.8,923.8 L381.8,923.9 L382.8,924.9 L383.8,924.3 L384.8,923.8 L385.8,924.0 L386.8,924.1 L387.8,924.4 L388.8,923.8 L389.8,923.4 L390.8,923.8 L391.8,923.9 L392.8,923.9 L393.8,924.3 L394.8,923.9 L395.8,924.1 L396.8,923.3 L397.8,924.0 L398.8,924.4 L399.8,923.8 L400.8,923.6 L401.8,923.5 L402.8,924.0 L403.8,923.0 L404.8,923.2 L405.8,923.3 L406.8,923.2 L407.8,922.6 L408.8,922.6 L409.8,922.1 L410.8,922.0 L411.8,921.5 L412.8,920.7 L413.8,920.7 L414.8,920.5" fill="none" stroke="#7a7a7a" stroke-width="3.2" stroke-linejoin="round"/>
<path d="M414.8,920.0 L415.8,918.9 L416.8,918.6 L417.8,918.4 L418.8,917.4 L419.8,917.4 L420.8,916.6 L421.8,917.0 L422.8,917.1 L423.8,916.6 L424.8,915.5 L425.8,915.5 L426.8,915.0 L427.8,914.7 L428.8,914.9 L429.8,913.6 L430.8,914.1 L431.8,913.5 L432.8,913.7 L433.8,913.1 L434.8,912.5 L435.8,912.6 L436.8,912.6 L437.8,912.1 L438.8,912.1 L439.8,911.5 L440.8,910.8 L441.8,911.7 L442.8,911.4 L443.8,911.1 L444.8,910.9 L445.8,911.0 L446.8,910.4 L447.8,910.1 L448.8,910.2 L449.8,910.5 L450.8,909.5 L451.8,910.2 L452.8,909.5 L453.8,909.2 L454.8,909.9 L455.8,909.3 L456.8,908.8 L457.8,909.0 L458.8,909.3 L459.8,909.3 L460.8,908.6 L461.8,908.8 L462.8,908.7 L463.8,908.1 L464.8,908.4 L465.8,908.1 L466.8,907.8 L467.8,907.7 L468.8,907.8 L469.8,907.7 L470.8,907.4 L471.8,907.3 L472.8,907.8 L473.8,907.3 L474.8,907.5 L475.8,907.5 L476.8,907.2 L477.8,907.7 L478.8,906.5 L479.8,907.0 L480.8,906.5 L481.8,907.2 L482.8,907.1 L483.8,905.7 L484.8,906.0 L485.8,906.5 L486.8,906.5 L487.8,906.4 L488.8,906.1 L489.8,906.2 L490.8,906.2 L491.8,905.9 L492.8,906.3 L493.8,905.1 L494.8,906.1 L495.8,905.5 L496.8,906.2 L497.8,905.8 L498.8,905.5 L499.8,906.0 L500.8,905.5 L501.8,905.5 L502.8,905.3 L503.8,905.8 L504.8,906.0 L505.8,906.2 L506.8,905.8 L507.8,906.2 L508.8,905.8 L509.8,905.8 L510.8,906.0 L511.8,906.2 L512.8,905.7 L513.8,905.7 L514.8,905.7 L515.8,905.8 L516.8,905.5 L517.8,906.1 L518.8,905.6 L519.8,905.9 L520.8,905.5 L521.8,905.9 L522.8,905.9 L523.8,905.6 L524.8,906.5 L525.8,905.9 L526.8,906.4 L527.8,906.1 L528.8,905.5 L529.8,905.6 L530.8,905.9 L531.8,905.8 L532.8,905.8 L533.8,905.7 L534.8,905.1 L535.8,905.7 L536.8,905.0 L537.8,905.9 L538.8,905.5 L539.8,905.5 L540.8,905.7 L541.8,905.9 L542.8,905.3 L543.8,905.2 L544.8,905.5 L545.8,905.2 L546.8,905.6 L547.8,906.5 L548.8,905.6 L549.8,906.2 L550.8,905.5 L551.8,906.1 L552.8,905.9 L553.8,906.1 L554.8,906.3 L555.8,906.8 L556.8,906.3 L557.8,906.4 L558.8,906.2 L559.8,906.9 L560.8,906.8 L561.8,907.4 L562.8,907.3 L563.8,908.0 L564.8,906.9 L565.8,907.6 L566.8,908.2 L567.8,907.9 L568.8,907.9 L569.8,908.3 L570.8,908.0 L571.8,908.7 L572.8,909.7 L573.8,909.4 L574.8,908.7 L575.8,909.0 L576.8,909.3 L577.8,909.9 L578.8,909.4 L579.8,909.6 L580.8,910.3 L581.8,910.5 L582.8,910.2 L583.8,910.0 L584.8,910.0 L585.8,910.5 L586.8,910.1 L587.8,911.3 L588.8,910.9 L589.8,911.5 L590.8,912.1 L591.8,912.0 L592.8,911.3 L593.8,912.2 L594.8,912.4 L595.8,911.9 L596.8,912.0 L597.8,912.4 L598.8,912.0 L599.8,913.2 L600.8,912.0 L601.8,912.6 L602.8,913.1 L603.8,913.2 L604.8,913.5 L605.8,913.7 L606.8,913.7 L607.8,914.3 L608.8,913.3 L609.8,914.2 L610.8,914.1 L611.8,914.5 L612.8,914.7 L613.8,914.5 L614.8,914.7 L615.8,915.4 L616.8,915.4 L617.8,915.1 L618.8,916.3 L619.8,916.5 L620.8,915.3 L621.8,916.1 L622.8,917.0 L623.8,916.6 L624.8,916.5 L625.8,916.5 L626.8,916.5 L627.8,916.8 L628.8,916.8 L629.8,917.4 L630.8,917.2 L631.8,917.3 L632.8,917.2 L633.8,917.7 L634.8,917.6 L635.8,918.0 L636.8,918.5 L637.8,918.4 L638.8,918.6 L639.8,918.7 L640.8,918.8 L641.8,918.8 L642.8,918.9 L643.8,919.4 L644.8,918.9 L645.8,919.9 L646.8,919.6 L647.8,919.4 L648.8,919.6 L649.8,919.7 L650.8,920.1 L651.8,919.9 L652.8,920.7 L653.8,920.1 L654.8,919.7 L655.8,920.4 L656.8,920.1 L657.8,920.9 L658.8,921.4 L659.8,921.4 L660.8,920.8 L661.8,921.1 L662.8,922.1 L663.8,921.7 L664.8,921.7 L665.8,922.2 L666.8,922.8 L667.8,922.5 L668.8,922.2 L669.8,922.4 L670.8,922.6 L671.8,922.2 L672.8,922.2 L673.8,922.7 L674.8,922.4 L675.8,922.8 L676.8,923.0 L677.8,923.9 L678.8,922.9 L679.8,923.3 L680.8,923.3 L681.8,923.7 L682.8,924.0 L683.8,923.6 L684.8,923.5 L685.8,923.4 L686.8,923.7 L687.8,924.3 L688.8,924.3 L689.8,924.0 L690.8,924.4 L691.8,924.6 L692.8,924.9 L693.8,924.6 L694.8,924.9 L695.8,924.4 L696.8,924.8 L697.8,925.9 L698.8,924.6 L699.8,925.4 L700.8,925.7 L701.8,925.6 L702.8,925.6 L703.8,926.0 L704.8,926.1 L705.8,926.2 L706.8,925.7 L707.8,926.4 L708.8,926.3 L709.8,926.6 L710.8,927.0 L711.8,927.2 L712.8,927.4 L713.8,927.1 L714.8,927.7 L715.8,927.9 L716.8,928.0 L717.8,928.2 L718.8,927.8 L719.8,927.9 L720.8,928.4 L721.8,927.8 L722.8,928.5 L723.8,928.3 L724.8,928.5 L725.8,928.2 L726.8,928.6 L727.8,929.0 L728.8,929.5 L729.8,929.7 L730.8,929.4 L731.8,929.5 L732.8,929.4 L733.8,930.0 L734.8,929.9 L735.8,930.3 L736.8,930.9 L737.8,930.4 L738.8,930.0 L739.8,930.3 L740.8,930.3 L741.8,930.5 L742.8,931.5 L743.8,931.3 L744.8,930.8 L745.8,931.7 L746.8,932.0 L747.8,931.6 L748.8,931.6 L749.8,931.9 L750.8,932.3 L751.8,932.5 L752.8,932.9 L753.8,933.0 L754.8,933.1 L755.8,933.3 L756.8,933.2 L757.8,932.6 L758.8,933.2 L759.8,933.5 L760.8,933.4 L761.8,934.0 L762.8,933.7 L763.8,933.7 L764.8,934.7 L765.8,934.5 L766.8,934.5 L767.8,934.9 L768.8,935.1 L769.8,935.0 L770.8,934.2 L771.8,934.9 L772.8,935.2 L773.8,935.1 L774.8,935.7 L775.8,936.2 L776.8,935.7 L777.8,935.7 L778.8,936.9 L779.8,936.2 L780.8,936.1 L781.8,936.8 L782.8,937.0 L783.8,936.7 L784.8,937.4 L785.8,937.1 L786.8,937.1 L787.8,937.7 L788.8,938.0 L789.8,937.7 L790.8,938.2 L791.8,938.2 L792.8,939.4 L793.8,938.3 L794.8,939.2 L795.8,938.9 L796.8,939.0 L797.8,939.4 L798.8,939.7 L799.8,940.0 L800.8,939.8 L801.8,939.6 L802.8,939.8 L803.8,940.4 L804.8,940.6 L805.8,941.0 L806.8,940.8 L807.8,941.2 L808.8,941.6 L809.8,941.3 L810.8,940.9 L811.8,941.1 L812.8,941.2 L813.8,942.5 L814.8,941.8 L815.8,942.7 L816.8,942.6 L817.8,943.2 L818.8,943.1 L819.8,942.9 L820.8,943.1 L821.8,943.4 L822.8,943.6 L823.8,943.5 L824.8,943.9 L825.8,944.6 L826.8,943.7 L827.8,944.5 L828.8,944.3 L829.8,944.9 L830.8,945.3 L831.8,945.1 L832.8,945.6 L833.8,945.0 L834.8,946.1 L835.8,945.7 L836.8,946.3 L837.8,946.3 L838.8,945.6 L839.8,946.4 L840.8,946.9 L841.8,947.6 L842.8,947.3 L843.8,947.5 L844.8,947.1 L845.8,948.3 L846.8,948.6 L847.8,948.2 L848.8,948.3 L849.8,947.9 L850.8,949.0 L851.8,949.8 L852.8,949.3 L853.8,949.7 L854.8,949.6 L855.8,949.3 L856.8,950.3 L857.8,949.6 L858.8,950.1 L859.8,950.5 L860.8,950.9 L861.8,950.9 L862.8,951.1 L863.8,950.9 L864.8,950.9 L865.8,951.5 L866.8,951.4 L867.8,951.4 L868.8,951.6 L869.8,952.1 L870.8,951.8 L871.8,952.2 L872.8,952.2 L873.8,953.1 L874.8,953.3 L875.8,954.1 L876.8,953.1 L877.8,953.5 L878.8,954.3 L879.8,954.1 L880.8,954.2 L881.8,955.1 L882.8,954.6 L883.8,954.5 L884.8,954.6 L885.8,955.4 L886.8,955.6 L887.8,955.2 L888.8,955.5 L889.8,956.3 L890.8,956.5 L891.8,956.2 L892.8,956.9 L893.8,957.0 L894.8,956.4 L895.8,957.1 L896.8,957.6 L897.8,957.4 L898.8,957.1 L899.8,957.9 L900.8,958.5 L901.8,959.0 L902.8,957.8 L903.8,959.7 L904.8,958.6 L905.8,959.5 L906.8,959.8 L907.8,959.9 L908.8,959.8 L909.8,959.5 L910.8,960.3 L911.8,960.0 L912.8,959.6 L913.8,961.7 L914.8,961.1 L915.8,961.7 L916.8,960.9 L917.8,962.0 L918.8,962.2 L919.8,962.4 L920.8,962.0 L921.8,961.8 L922.8,962.4 L923.8,961.9 L924.8,962.3 L925.8,963.1 L926.8,963.0 L927.8,963.5 L928.8,963.7 L929.8,964.7 L930.8,964.7 L931.8,964.5 L932.8,965.2 L933.8,964.7 L934.8,965.1 L935.8,965.8 L936.8,965.3 L937.8,966.0 L938.8,965.9 L939.8,966.7 L940.8,967.5 L941.8,966.9 L942.8,967.6 L943.8,967.5 L944.8,967.7 L945.8,967.9 L946.8,969.2 L947.8,969.8" fill="none" stroke="#7a7a7a" stroke-width="2.3" stroke-linejoin="round"/>
<path d="M262.0,983.2 L262.5,983.2 L263.0,983.2 L263.5,983.2 L264.0,983.2 L264.5,983.2 L265.0,983.2 L265.5,983.2 L266.0,983.2 L266.5,983.2 L267.0,983.2 L267.5,983.2 L268.0,983.2 L268.5,983.2 L269.0,983.2 L269.5,983.2 L270.0,983.2 L270.5,983.2 L271.0,983.2 L271.5,983.2 L272.0,983.2 L272.5,983.2 L273.0,983.1 L273.5,983.1 L274.0,983.1 L274.5,983.1 L275.0,983.1 L275.5,983.1 L276.0,983.1 L276.5,983.1 L277.0,983.1 L277.5,983.1 L278.0,983.1 L278.5,983.1 L279.0,983.1 L279.5,983.1 L280.0,983.0 L280.5,983.0 L281.0,983.0 L281.5,983.0 L282.0,983.0 L282.5,983.0 L283.0,982.9 L283.5,982.7 L284.0,982.6 L284.5,982.4 L285.0,982.2 L285.5,982.0 L286.0,981.7 L286.5,981.5 L287.0,981.3 L287.5,981.1 L288.0,980.9 L288.5,980.8 L289.0,980.7 L289.5,980.6 L290.0,980.6 L290.5,980.6 L291.0,980.6 L291.5,980.6 L292.0,980.6 L292.5,980.6 L293.0,980.6 L293.5,980.6 L294.0,980.7 L294.5,980.7 L295.0,980.7 L295.5,980.7 L296.0,980.7 L296.5,980.7 L297.0,980.7 L297.5,980.7 L298.0,980.8 L298.5,980.8 L299.0,980.8 L299.5,980.8 L300.0,980.8 L300.5,980.8 L301.0,980.8 L301.5,980.8 L302.0,980.9 L302.5,980.9 L303.0,980.9 L303.5,980.9 L304.0,980.9 L304.5,980.9 L305.0,981.0 L305.5,981.0 L306.0,981.0 L306.5,981.0 L307.0,981.0 L307.5,981.0 L308.0,981.1 L308.5,981.1 L309.0,981.1 L309.5,981.1 L310.0,981.1 L310.5,981.1 L311.0,981.2 L311.5,981.2 L312.0,981.2 L312.5,981.2 L313.0,981.2 L313.5,981.2 L314.0,981.2 L314.5,981.2 L315.0,981.2 L315.5,981.2 L316.0,981.2 L316.5,981.2 L317.0,981.1 L317.5,981.1 L318.0,981.1 L318.5,981.1 L319.0,981.0 L319.5,981.0 L320.0,981.0 L320.5,980.9 L321.0,980.9 L321.5,980.8 L322.0,980.8 L322.5,980.7 L323.0,980.6 L323.5,980.6 L324.0,980.5 L324.5,980.5 L325.0,980.4 L325.5,980.3 L326.0,980.3 L326.5,980.2 L327.0,980.1 L327.5,980.1 L328.0,980.0 L328.5,979.9 L329.0,979.8 L329.5,979.8 L330.0,979.7 L330.5,979.6 L331.0,979.5 L331.5,979.4 L332.0,979.3 L332.5,979.1 L333.0,979.0 L333.5,978.8 L334.0,978.6 L334.5,978.4 L335.0,978.3 L335.5,978.1 L336.0,977.9 L336.5,977.7 L337.0,977.6 L337.5,977.4 L338.0,977.3 L338.5,977.2 L339.0,977.1 L339.5,977.0 L340.0,976.9 L340.5,976.9 L341.0,976.9 L341.5,976.9 L342.0,976.9 L342.5,976.9 L343.0,977.0 L343.5,977.0 L344.0,977.0 L344.5,977.1 L345.0,977.1 L345.5,977.2 L346.0,977.2 L346.5,977.3 L347.0,977.4 L347.5,977.4 L348.0,977.5 L348.5,977.6 L349.0,977.7 L349.5,977.7 L350.0,977.8 L350.5,977.9 L351.0,978.0 L351.5,978.1 L352.0,978.2 L352.5,978.3 L353.0,978.4 L353.5,978.6 L354.0,978.8 L354.5,979.0 L355.0,979.2 L355.5,979.5 L356.0,979.7 L356.5,979.9 L357.0,980.1 L357.5,980.4 L358.0,980.6 L358.5,980.7 L359.0,980.9 L359.5,981.0 L360.0,981.1 L360.5,981.2 L361.0,981.2 L361.5,981.2 L362.0,981.2 L362.5,981.2 L363.0,981.2 L363.5,981.2 L364.0,981.2 L364.5,981.2 L365.0,981.2 L365.5,981.2 L366.0,981.2 L366.5,981.2 L367.0,981.2 L367.5,981.2 L368.0,981.2 L368.5,981.2 L369.0,981.2 L369.5,981.2 L370.0,981.2 L370.5,981.2 L371.0,981.2 L371.5,981.2 L372.0,981.2 L372.5,981.2 L373.0,981.2 L373.5,981.2 L374.0,981.2 L374.5,981.2 L375.0,981.2 L375.5,981.2 L376.0,981.2 L376.5,981.2 L377.0,981.2 L377.5,981.2 L378.0,981.2 L378.5,981.2 L379.0,981.2 L379.5,981.2 L380.0,981.2 L380.5,981.2 L381.0,981.1 L381.5,981.0 L382.0,980.9 L382.5,980.8 L383.0,980.7 L383.5,980.6 L384.0,980.4 L384.5,980.2 L385.0,980.0 L385.5,979.8 L386.0,979.6" fill="none" stroke="#0a5fd0" stroke-width="2.8" stroke-dasharray="20 0 4 1 4 1 4 1 4 1"/>
<path d="M386.0,979.6 L386.5,979.4 L387.0,979.2 L387.5,979.0 L388.0,978.7 L388.5,978.5 L389.0,978.2 L389.5,978.0 L390.0,977.7 L390.5,977.4 L391.0,977.2 L391.5,976.9 L392.0,976.5 L392.5,976.1 L393.0,975.7 L393.5,975.3 L394.0,974.9 L394.5,974.4 L395.0,973.9 L395.5,973.4 L396.0,972.8 L396.5,972.3 L397.0,971.7 L397.5,971.1 L398.0,970.5 L398.5,969.9 L399.0,969.3 L399.5,968.6 L400.0,967.9 L400.5,967.2 L401.0,966.4 L401.5,965.6 L402.0,964.8 L402.5,963.9 L403.0,962.9 L403.5,962.0 L404.0,960.9 L404.5,959.8 L405.0,958.7 L405.5,957.5 L406.0,956.2 L406.5,954.8 L407.0,953.2 L407.5,951.3 L408.0,949.4 L408.5,947.3 L409.0,945.0 L409.5,942.7 L410.0,940.3 L410.5,937.9 L411.0,935.3 L411.5,932.4 L412.0,929.3 L412.5,926.2 L413.0,923.0 L413.5,919.9 L414.0,916.9 L414.5,913.9 L415.0,911.0 L415.5,908.0 L416.0,905.0 L416.5,901.9 L417.0,898.8 L417.5,895.6 L418.0,892.3 L418.5,889.0 L419.0,885.6 L419.5,882.3 L420.0,878.9 L420.5,875.6 L421.0,872.4 L421.5,869.2 L422.0,866.0 L422.5,862.7 L423.0,859.5 L423.5,856.2 L424.0,853.1 L424.5,850.1 L425.0,847.1 L425.5,844.4 L426.0,841.9 L426.5,839.5 L427.0,837.3 L427.5,835.1 L428.0,832.9 L428.5,830.9 L429.0,829.0 L429.5,827.2 L430.0,825.5 L430.5,823.9 L431.0,822.4 L431.5,821.0 L432.0,819.7 L432.5,818.4 L433.0,817.2 L433.5,816.0 L434.0,814.9 L434.5,813.9 L435.0,813.0 L435.5,812.2 L436.0,811.4 L436.5,810.6 L437.0,809.8 L437.5,809.0 L438.0,808.3 L438.5,807.7 L439.0,807.0 L439.5,806.5 L440.0,806.0 L440.5,805.5 L441.0,805.1 L441.5,804.8 L442.0,804.5 L442.5,804.3 L443.0,804.0 L443.5,803.8 L444.0,803.5 L444.5,803.3 L445.0,803.1 L445.5,802.9 L446.0,802.7 L446.5,802.6 L447.0,802.4 L447.5,802.3 L448.0,802.1 L448.5,802.0 L449.0,801.9 L449.5,801.8 L450.0,801.8 L450.5,801.7 L451.0,801.7 L451.5,801.7 L452.0,801.6 L452.5,801.6 L453.0,801.6 L453.5,801.6 L454.0,801.5 L454.5,801.5 L455.0,801.5" fill="none" stroke="#0a5fd0" stroke-width="3.4" stroke-dasharray="11.5 3.5"/>
<path d="M455.0,801.5 L455.5,801.5 L456.0,801.5 L456.5,801.4 L457.0,801.4 L457.5,801.4 L458.0,801.4 L458.5,801.4 L459.0,801.3 L459.5,801.3 L460.0,801.3 L460.5,801.3 L461.0,801.3 L461.5,801.3 L462.0,801.2 L462.5,801.2 L463.0,801.2 L463.5,801.2 L464.0,801.2 L464.5,801.2 L465.0,801.2 L465.5,801.1 L466.0,801.1 L466.5,801.1 L467.0,801.1 L467.5,801.1 L468.0,801.1 L468.5,801.1 L469.0,801.1 L469.5,801.1 L470.0,801.0 L470.5,801.0 L471.0,801.0 L471.5,801.0 L472.0,801.0 L472.5,801.0 L473.0,801.0 L473.5,801.0 L474.0,801.0 L474.5,801.0 L475.0,800.9 L475.5,800.9 L476.0,800.9 L476.5,800.9 L477.0,800.9 L477.5,800.9 L478.0,800.9 L478.5,800.9 L479.0,800.9 L479.5,800.9 L480.0,800.9 L480.5,800.9 L481.0,800.9 L481.5,800.9 L482.0,800.9 L482.5,800.8 L483.0,800.8 L483.5,800.8 L484.0,800.8 L484.5,800.8 L485.0,800.8 L485.5,800.8 L486.0,800.8 L486.5,800.8 L487.0,800.8 L487.5,800.8 L488.0,800.8 L488.5,800.8 L489.0,800.8 L489.5,800.8 L490.0,800.8 L490.5,800.8 L491.0,800.8 L491.5,800.8 L492.0,800.7 L492.5,800.7 L493.0,800.7 L493.5,800.7 L494.0,800.7 L494.5,800.7 L495.0,800.7 L495.5,800.7 L496.0,800.7 L496.5,800.7 L497.0,800.7 L497.5,800.7 L498.0,800.7 L498.5,800.7 L499.0,800.7 L499.5,800.7 L500.0,800.7 L500.5,800.7 L501.0,800.7 L501.5,800.7 L502.0,800.7 L502.5,800.6 L503.0,800.6 L503.5,800.6 L504.0,800.6 L504.5,800.6 L505.0,800.6 L505.5,800.6 L506.0,800.6 L506.5,800.6 L507.0,800.6 L507.5,800.6 L508.0,800.6 L508.5,800.6 L509.0,800.6 L509.5,800.6 L510.0,800.6 L510.5,800.6 L511.0,800.6 L511.5,800.6 L512.0,800.6 L512.5,800.6 L513.0,800.6 L513.5,800.5 L514.0,800.5 L514.5,800.5 L515.0,800.5 L515.5,800.5 L516.0,800.5 L516.5,800.5 L517.0,800.5 L517.5,800.5 L518.0,800.5 L518.5,800.5 L519.0,800.5 L519.5,800.5 L520.0,800.5 L520.5,800.5 L521.0,800.5 L521.5,800.5 L522.0,800.5 L522.5,800.5 L523.0,800.5 L523.5,800.5 L524.0,800.5 L524.5,800.5 L525.0,800.5 L525.5,800.5 L526.0,800.4 L526.5,800.4 L527.0,800.4 L527.5,800.4 L528.0,800.4 L528.5,800.4 L529.0,800.4 L529.5,800.4 L530.0,800.4 L530.5,800.4 L531.0,800.4 L531.5,800.4 L532.0,800.4 L532.5,800.4 L533.0,800.4 L533.5,800.4 L534.0,800.4 L534.5,800.4 L535.0,800.4 L535.5,800.4 L536.0,800.4 L536.5,800.4 L537.0,800.4 L537.5,800.4 L538.0,800.4 L538.5,800.4 L539.0,800.4 L539.5,800.3 L540.0,800.3 L540.5,800.3 L541.0,800.3 L541.5,800.3 L542.0,800.3 L542.5,800.3 L543.0,800.3 L543.5,800.3 L544.0,800.3 L544.5,800.3 L545.0,800.3 L545.5,800.3 L546.0,800.3 L546.5,800.3 L547.0,800.3 L547.5,800.3 L548.0,800.3 L548.5,800.3 L549.0,800.3 L549.5,800.3 L550.0,800.3 L550.5,800.3 L551.0,800.3 L551.5,800.3 L552.0,800.3 L552.5,800.3 L553.0,800.3 L553.5,800.3 L554.0,800.3 L554.5,800.3 L555.0,800.3 L555.5,800.2 L556.0,800.2 L556.5,800.2 L557.0,800.2 L557.5,800.2 L558.0,800.2 L558.5,800.2 L559.0,800.2 L559.5,800.2 L560.0,800.2 L560.5,800.2 L561.0,800.2 L561.5,800.2 L562.0,800.2 L562.5,800.2 L563.0,800.2 L563.5,800.2 L564.0,800.2 L564.5,800.2 L565.0,800.2 L565.5,800.2 L566.0,800.2 L566.5,800.2 L567.0,800.2 L567.5,800.2 L568.0,800.2 L568.5,800.2 L569.0,800.2 L569.5,800.2 L570.0,800.2 L570.5,800.2 L571.0,800.2 L571.5,800.2 L572.0,800.2 L572.5,800.2 L573.0,800.1 L573.5,800.1 L574.0,800.1 L574.5,800.1 L575.0,800.1 L575.5,800.1 L576.0,800.1 L576.5,800.1 L577.0,800.1 L577.5,800.1 L578.0,800.1 L578.5,800.1 L579.0,800.1 L579.5,800.1 L580.0,800.1 L580.5,800.1 L581.0,800.1 L581.5,800.1 L582.0,800.1 L582.5,800.1 L583.0,800.1 L583.5,800.1 L584.0,800.1 L584.5,800.1 L585.0,800.1 L585.5,800.1 L586.0,800.1 L586.5,800.1 L587.0,800.1 L587.5,800.1 L588.0,800.1 L588.5,800.1 L589.0,800.1 L589.5,800.1 L590.0,800.1 L590.5,800.1 L591.0,800.1 L591.5,800.1 L592.0,800.1 L592.5,800.1 L593.0,800.1 L593.5,800.1 L594.0,800.0 L594.5,800.0 L595.0,800.0 L595.5,800.0 L596.0,800.0 L596.5,800.0 L597.0,800.0 L597.5,800.0 L598.0,800.0 L598.5,800.0 L599.0,800.0 L599.5,800.0 L600.0,800.0 L600.5,800.0 L601.0,800.0 L601.5,800.0 L602.0,800.0 L602.5,800.0 L603.0,800.0 L603.5,800.0 L604.0,800.0 L604.5,800.0 L605.0,800.0 L605.5,800.0 L606.0,800.0 L606.5,800.0 L607.0,800.0 L607.5,800.0 L608.0,800.0 L608.5,800.0 L609.0,800.0 L609.5,800.0 L610.0,800.0 L610.5,800.0 L611.0,800.0 L611.5,800.0 L612.0,800.0 L612.5,800.0 L613.0,800.0 L613.5,800.0 L614.0,800.0 L614.5,800.0 L615.0,800.0 L615.5,800.0 L616.0,800.0 L616.5,800.0 L617.0,800.0 L617.5,799.9 L618.0,799.9 L618.5,799.9 L619.0,799.9 L619.5,799.9 L620.0,799.9 L620.5,799.9 L621.0,799.9 L621.5,799.9 L622.0,799.9 L622.5,799.9 L623.0,799.9 L623.5,799.9 L624.0,799.9 L624.5,799.9 L625.0,799.9 L625.5,799.9 L626.0,799.9 L626.5,799.9 L627.0,799.9 L627.5,799.9 L628.0,799.9 L628.5,799.9 L629.0,799.9 L629.5,799.9 L630.0,799.9 L630.5,799.9 L631.0,799.9 L631.5,799.9 L632.0,799.9 L632.5,799.9 L633.0,799.9 L633.5,799.9 L634.0,799.9 L634.5,799.9 L635.0,799.9 L635.5,799.9 L636.0,799.9 L636.5,799.9 L637.0,799.9 L637.5,799.9 L638.0,799.9 L638.5,799.9 L639.0,799.9 L639.5,799.9 L640.0,799.9 L640.5,799.9 L641.0,799.9 L641.5,799.9 L642.0,799.9 L642.5,799.9 L643.0,799.8 L643.5,799.8 L644.0,799.8 L644.5,799.8 L645.0,799.8 L645.5,799.8 L646.0,799.8 L646.5,799.8 L647.0,799.8 L647.5,799.8 L648.0,799.8 L648.5,799.8 L649.0,799.8 L649.5,799.8 L650.0,799.8 L650.5,799.8 L651.0,799.8 L651.5,799.8 L652.0,799.8 L652.5,799.8 L653.0,799.8 L653.5,799.8 L654.0,799.8 L654.5,799.8 L655.0,799.8 L655.5,799.8 L656.0,799.8 L656.5,799.8 L657.0,799.8 L657.5,799.8 L658.0,799.8 L658.5,799.8 L659.0,799.8 L659.5,799.8 L660.0,799.8 L660.5,799.8 L661.0,799.8 L661.5,799.8 L662.0,799.8 L662.5,799.8 L663.0,799.8 L663.5,799.8 L664.0,799.8 L664.5,799.8 L665.0,799.8 L665.5,799.8 L666.0,799.8 L666.5,799.8 L667.0,799.8 L667.5,799.7 L668.0,799.7 L668.5,799.7 L669.0,799.7 L669.5,799.7 L670.0,799.7 L670.5,799.7 L671.0,799.7 L671.5,799.7 L672.0,799.7 L672.5,799.7 L673.0,799.7 L673.5,799.7 L674.0,799.7 L674.5,799.7 L675.0,799.7 L675.5,799.7 L676.0,799.7 L676.5,799.7 L677.0,799.7 L677.5,799.7 L678.0,799.7 L678.5,799.7 L679.0,799.7 L679.5,799.7 L680.0,799.7 L680.5,799.7 L681.0,799.7 L681.5,799.7 L682.0,799.7 L682.5,799.7 L683.0,799.7 L683.5,799.7 L684.0,799.7 L684.5,799.7 L685.0,799.7 L685.5,799.7 L686.0,799.7 L686.5,799.7 L687.0,799.7 L687.5,799.7 L688.0,799.7 L688.5,799.7 L689.0,799.7 L689.5,799.7 L690.0,799.6 L690.5,799.6 L691.0,799.6 L691.5,799.6 L692.0,799.6 L692.5,799.6 L693.0,799.6 L693.5,799.6 L694.0,799.6 L694.5,799.6 L695.0,799.6 L695.5,799.6 L696.0,799.6 L696.5,799.6 L697.0,799.6 L697.5,799.6 L698.0,799.6 L698.5,799.6 L699.0,799.6 L699.5,799.6 L700.0,799.6 L700.5,799.6 L701.0,799.6 L701.5,799.6 L702.0,799.6 L702.5,799.6 L703.0,799.6 L703.5,799.6 L704.0,799.6 L704.5,799.6 L705.0,799.6 L705.5,799.6 L706.0,799.6 L706.5,799.6 L707.0,799.6 L707.5,799.6 L708.0,799.6 L708.5,799.6 L709.0,799.6 L709.5,799.6 L710.0,799.5 L710.5,799.5 L711.0,799.5 L711.5,799.5 L712.0,799.5 L712.5,799.5 L713.0,799.5 L713.5,799.5 L714.0,799.5 L714.5,799.5 L715.0,799.5 L715.5,799.5 L716.0,799.5 L716.5,799.5 L717.0,799.5 L717.5,799.5 L718.0,799.5 L718.5,799.5 L719.0,799.5 L719.5,799.5 L720.0,799.5 L720.5,799.5 L721.0,799.5 L721.5,799.5 L722.0,799.5 L722.5,799.5 L723.0,799.5 L723.5,799.5 L724.0,799.5 L724.5,799.5 L725.0,799.5 L725.5,799.5 L726.0,799.5 L726.5,799.5 L727.0,799.5 L727.5,799.5 L728.0,799.5 L728.5,799.5 L729.0,799.5 L729.5,799.5 L730.0,799.4 L730.5,799.4 L731.0,799.4 L731.5,799.4 L732.0,799.4 L732.5,799.4 L733.0,799.4 L733.5,799.4 L734.0,799.4 L734.5,799.4 L735.0,799.4 L735.5,799.4 L736.0,799.4 L736.5,799.4 L737.0,799.4 L737.5,799.4 L738.0,799.4 L738.5,799.4 L739.0,799.4 L739.5,799.4 L740.0,799.4 L740.5,799.4 L741.0,799.4 L741.5,799.4 L742.0,799.4 L742.5,799.4 L743.0,799.4 L743.5,799.4 L744.0,799.4 L744.5,799.4 L745.0,799.4 L745.5,799.4 L746.0,799.4 L746.5,799.4 L747.0,799.4 L747.5,799.4 L748.0,799.4 L748.5,799.4 L749.0,799.4 L749.5,799.4 L750.0,799.3 L750.5,799.3 L751.0,799.3 L751.5,799.3 L752.0,799.3 L752.5,799.3 L753.0,799.3 L753.5,799.3 L754.0,799.3 L754.5,799.3 L755.0,799.3 L755.5,799.3 L756.0,799.3 L756.5,799.3 L757.0,799.3 L757.5,799.3 L758.0,799.3 L758.5,799.3 L759.0,799.3 L759.5,799.3 L760.0,799.3 L760.5,799.3 L761.0,799.3 L761.5,799.3 L762.0,799.3 L762.5,799.3 L763.0,799.3 L763.5,799.3 L764.0,799.3 L764.5,799.3 L765.0,799.3 L765.5,799.3 L766.0,799.3 L766.5,799.3 L767.0,799.3 L767.5,799.3 L768.0,799.3 L768.5,799.3 L769.0,799.3 L769.5,799.3 L770.0,799.2 L770.5,799.2 L771.0,799.2 L771.5,799.2 L772.0,799.2 L772.5,799.2 L773.0,799.2 L773.5,799.2 L774.0,799.2 L774.5,799.2 L775.0,799.2 L775.5,799.2 L776.0,799.2 L776.5,799.2 L777.0,799.2 L777.5,799.2 L778.0,799.2 L778.5,799.2 L779.0,799.2 L779.5,799.2 L780.0,799.2 L780.5,799.2 L781.0,799.2 L781.5,799.2 L782.0,799.2 L782.5,799.2 L783.0,799.2 L783.5,799.2 L784.0,799.2 L784.5,799.2 L785.0,799.2 L785.5,799.2 L786.0,799.2 L786.5,799.2 L787.0,799.2 L787.5,799.2 L788.0,799.2 L788.5,799.2 L789.0,799.2 L789.5,799.2 L790.0,799.1 L790.5,799.1 L791.0,799.1 L791.5,799.1 L792.0,799.1 L792.5,799.1 L793.0,799.1 L793.5,799.1 L794.0,799.1 L794.5,799.1 L795.0,799.1 L795.5,799.1 L796.0,799.1 L796.5,799.1 L797.0,799.1 L797.5,799.1 L798.0,799.1 L798.5,799.1 L799.0,799.1 L799.5,799.1 L800.0,799.1 L800.5,799.1 L801.0,799.1 L801.5,799.1 L802.0,799.1 L802.5,799.1 L803.0,799.1 L803.5,799.1 L804.0,799.1 L804.5,799.1 L805.0,799.1 L805.5,799.1 L806.0,799.1 L806.5,799.1 L807.0,799.1 L807.5,799.1 L808.0,799.1 L808.5,799.1 L809.0,799.1 L809.5,799.1 L810.0,799.1 L810.5,799.0 L811.0,799.0 L811.5,799.0 L812.0,799.0 L812.5,799.0 L813.0,799.0 L813.5,799.0 L814.0,799.0 L814.5,799.0 L815.0,799.0 L815.5,799.0 L816.0,799.0 L816.5,799.0 L817.0,799.0 L817.5,799.0 L818.0,799.0 L818.5,799.0 L819.0,799.0 L819.5,799.0 L820.0,799.0 L820.5,799.0 L821.0,799.0 L821.5,799.0 L822.0,799.0 L822.5,799.0 L823.0,799.0 L823.5,799.0 L824.0,799.0 L824.5,799.0 L825.0,799.0 L825.5,799.0 L826.0,799.0 L826.5,799.0 L827.0,799.0 L827.5,799.0 L828.0,799.0 L828.5,799.0 L829.0,799.0 L829.5,799.0 L830.0,799.0 L830.5,799.0 L831.0,799.0 L831.5,798.9 L832.0,798.9 L832.5,798.9 L833.0,798.9 L833.5,798.9 L834.0,798.9 L834.5,798.9 L835.0,798.9 L835.5,798.9 L836.0,798.9 L836.5,798.9 L837.0,798.9 L837.5,798.9 L838.0,798.9 L838.5,798.9 L839.0,798.9 L839.5,798.9 L840.0,798.9 L840.5,798.9 L841.0,798.9 L841.5,798.9 L842.0,798.9 L842.5,798.9 L843.0,798.9 L843.5,798.9 L844.0,798.9 L844.5,798.9 L845.0,798.9 L845.5,798.9 L846.0,798.9 L846.5,798.9 L847.0,798.9 L847.5,798.9 L848.0,798.9 L848.5,798.9 L849.0,798.9 L849.5,798.9 L850.0,798.9 L850.5,798.9 L851.0,798.9 L851.5,798.9 L852.0,798.9 L852.5,798.8 L853.0,798.8 L853.5,798.8 L854.0,798.8 L854.5,798.8 L855.0,798.8 L855.5,798.8 L856.0,798.8 L856.5,798.8 L857.0,798.8 L857.5,798.8 L858.0,798.8 L858.5,798.8 L859.0,798.8 L859.5,798.8 L860.0,798.8 L860.5,798.8 L861.0,798.8 L861.5,798.8 L862.0,798.8 L862.5,798.8 L863.0,798.8 L863.5,798.8 L864.0,798.8 L864.5,798.8 L865.0,798.8 L865.5,798.8 L866.0,798.8 L866.5,798.8 L867.0,798.8 L867.5,798.8 L868.0,798.8 L868.5,798.8 L869.0,798.8 L869.5,798.8 L870.0,798.8 L870.5,798.8 L871.0,798.8 L871.5,798.8 L872.0,798.8 L872.5,798.8 L873.0,798.8 L873.5,798.7 L874.0,798.7 L874.5,798.7 L875.0,798.7 L875.5,798.7 L876.0,798.7 L876.5,798.7 L877.0,798.7 L877.5,798.7 L878.0,798.7 L878.5,798.7 L879.0,798.7 L879.5,798.7 L880.0,798.7 L880.5,798.7 L881.0,798.7 L881.5,798.7 L882.0,798.7 L882.5,798.7 L883.0,798.7 L883.5,798.7 L884.0,798.7 L884.5,798.7 L885.0,798.7 L885.5,798.7 L886.0,798.7 L886.5,798.7 L887.0,798.7 L887.5,798.7 L888.0,798.7 L888.5,798.7 L889.0,798.7 L889.5,798.7 L890.0,798.7 L890.5,798.7 L891.0,798.7 L891.5,798.7 L892.0,798.7 L892.5,798.7 L893.0,798.7 L893.5,798.7 L894.0,798.7 L894.5,798.7 L895.0,798.6 L895.5,798.6 L896.0,798.6 L896.5,798.6 L897.0,798.6 L897.5,798.6 L898.0,798.6 L898.5,798.6 L899.0,798.6 L899.5,798.6 L900.0,798.6 L900.5,798.6 L901.0,798.6 L901.5,798.6 L902.0,798.6 L902.5,798.6 L903.0,798.6 L903.5,798.6 L904.0,798.6 L904.5,798.6 L905.0,798.6 L905.5,798.6 L906.0,798.6 L906.5,798.6 L907.0,798.6 L907.5,798.6 L908.0,798.6 L908.5,798.6 L909.0,798.6 L909.5,798.6 L910.0,798.6 L910.5,798.6 L911.0,798.6 L911.5,798.6 L912.0,798.6 L912.5,798.6 L913.0,798.6 L913.5,798.6 L914.0,798.6 L914.5,798.6 L915.0,798.6 L915.5,798.6 L916.0,798.6 L916.5,798.6 L917.0,798.5 L917.5,798.5 L918.0,798.5 L918.5,798.5 L919.0,798.5 L919.5,798.5 L920.0,798.5 L920.5,798.5 L921.0,798.5 L921.5,798.5 L922.0,798.5 L922.5,798.5 L923.0,798.5 L923.5,798.5 L924.0,798.5 L924.5,798.5 L925.0,798.5 L925.5,798.5 L926.0,798.5 L926.5,798.5 L927.0,798.5 L927.5,798.5 L928.0,798.5 L928.5,798.5 L929.0,798.5 L929.5,798.5 L930.0,798.5 L930.5,798.5 L931.0,798.5 L931.5,798.5 L932.0,798.5 L932.5,798.5 L933.0,798.5 L933.5,798.5 L934.0,798.5 L934.5,798.5 L935.0,798.5 L935.5,798.5 L936.0,798.5 L936.5,798.5 L937.0,798.5 L937.5,798.5 L938.0,798.5 L938.5,798.5 L939.0,798.4 L939.5,798.4 L940.0,798.4 L940.5,798.4 L941.0,798.4 L941.5,798.4 L942.0,798.4 L942.5,798.4 L943.0,798.4 L943.5,798.4 L944.0,798.4 L944.5,798.4 L945.0,798.4 L945.5,798.4 L946.0,798.4 L946.5,798.4 L947.0,798.4 L947.5,798.4 L948.0,798.4 L948.5,798.4 L949.0,798.4 L949.5,798.4 L950.0,798.4" fill="none" stroke="#0a5fd0" stroke-width="3.4" stroke-dasharray="12 3 8 3 25 3 24 3 267 3.5 39.5 3.5 26.5 3.5 200 0"/>
<path d="M423.8,982.4v-3.3M448.9,982.4v-7.0M474.0,982.4v-3.3M499.1,982.4v-3.3M524.1,982.4v-3.3M549.2,982.4v-3.3M574.3,982.4v-7.0M599.4,982.4v-3.3M624.4,982.4v-3.3M649.5,982.4v-3.3M674.6,982.4v-3.3M699.7,982.4v-7.0M724.7,982.4v-3.3M749.8,982.4v-3.3M774.9,982.4v-3.3M800.0,982.4v-3.3M825.0,982.4v-7.0M850.1,982.4v-3.3M875.2,982.4v-3.3M900.3,982.4v-3.3M925.3,982.4v-3.3" stroke="#000" stroke-width="1.3" fill="none" stroke-dasharray="1 1"/>
<rect x="72.8" y="2.7" width="877.6" height="980.7" fill="none" stroke="#000" stroke-width="1.35"/>
<path d="M72.8,259.2H950.4" stroke="#000" stroke-width="1.35"/>
<path d="M72.8,515.4H950.4" stroke="#000" stroke-width="1.35"/>
<path d="M72.8,771.9H950.4" stroke="#000" stroke-width="1.35"/>
<text transform="translate(68.0,217.1) scale(0.9350,1)" font-size="22.90" text-anchor="end" font-family="Liberation Sans, Arial, Helvetica, sans-serif" fill="#000" stroke="#000" stroke-width="0.55">20</text>
<text transform="translate(68.0,168.3) scale(0.9350,1)" font-size="22.90" text-anchor="end" font-family="Liberation Sans, Arial, Helvetica, sans-serif" fill="#000" stroke="#000" stroke-width="0.55">40</text>
<text transform="translate(68.0,119.4) scale(0.9350,1)" font-size="22.90" text-anchor="end" font-family="Liberation Sans, Arial, Helvetica, sans-serif" fill="#000" stroke="#000" stroke-width="0.55">60</text>
<text transform="translate(68.0,70.6) scale(0.9350,1)" font-size="22.90" text-anchor="end" font-family="Liberation Sans, Arial, Helvetica, sans-serif" fill="#000" stroke="#000" stroke-width="0.55">80</text>
<text transform="translate(68.0,21.7) scale(0.8836,1)" font-size="22.90" text-anchor="end" font-family="Liberation Sans, Arial, Helvetica, sans-serif" fill="#000" stroke="#000" stroke-width="0.55">100</text>
<text transform="translate(68.0,473.4) scale(0.9350,1)" font-size="22.90" text-anchor="end" font-family="Liberation Sans, Arial, Helvetica, sans-serif" fill="#000" stroke="#000" stroke-width="0.55">20</text>
<text transform="translate(68.0,424.6) scale(0.9350,1)" font-size="22.90" text-anchor="end" font-family="Liberation Sans, Arial, Helvetica, sans-serif" fill="#000" stroke="#000" stroke-width="0.55">40</text>
<text transform="translate(68.0,375.8) scale(0.9350,1)" font-size="22.90" text-anchor="end" font-family="Liberation Sans, Arial, Helvetica, sans-serif" fill="#000" stroke="#000" stroke-width="0.55">60</text>
<text transform="translate(68.0,327.0) scale(0.9350,1)" font-size="22.90" text-anchor="end" font-family="Liberation Sans, Arial, Helvetica, sans-serif" fill="#000" stroke="#000" stroke-width="0.55">80</text>
<text transform="translate(68.0,278.2) scale(0.8836,1)" font-size="22.90" text-anchor="end" font-family="Liberation Sans, Arial, Helvetica, sans-serif" fill="#000" stroke="#000" stroke-width="0.55">100</text>
<text transform="translate(68.0,729.8) scale(0.9350,1)" font-size="22.90" text-anchor="end" font-family="Liberation Sans, Arial, Helvetica, sans-serif" fill="#000" stroke="#000" stroke-width="0.55">20</text>
<text transform="translate(68.0,681.0) scale(0.9350,1)" font-size="22.90" text-anchor="end" font-family="Liberation Sans, Arial, Helvetica, sans-serif" fill="#000" stroke="#000" stroke-width="0.55">40</text>
<text transform="translate(68.0,632.1) scale(0.9350,1)" font-size="22.90" text-anchor="end" font-family="Liberation Sans, Arial, Helvetica, sans-serif" fill="#000" stroke="#000" stroke-width="0.55">60</text>
<text transform="translate(68.0,583.3) scale(0.9350,1)" font-size="22.90" text-anchor="end" font-family="Liberation Sans, Arial, Helvetica, sans-serif" fill="#000" stroke="#000" stroke-width="0.55">80</text>
<text transform="translate(68.0,534.4) scale(0.8836,1)" font-size="22.90" text-anchor="end" font-family="Liberation Sans, Arial, Helvetica, sans-serif" fill="#000" stroke="#000" stroke-width="0.55">100</text>
<text transform="translate(68.0,951.2) scale(0.9660,1)" font-size="24.30" text-anchor="end" font-family="Liberation Sans, Arial, Helvetica, sans-serif" fill="#000" stroke="#000" stroke-width="0.55">20</text>
<text transform="translate(68.0,910.9) scale(0.9660,1)" font-size="24.30" text-anchor="end" font-family="Liberation Sans, Arial, Helvetica, sans-serif" fill="#000" stroke="#000" stroke-width="0.55">40</text>
<text transform="translate(68.0,870.6) scale(0.9660,1)" font-size="24.30" text-anchor="end" font-family="Liberation Sans, Arial, Helvetica, sans-serif" fill="#000" stroke="#000" stroke-width="0.55">60</text>
<text transform="translate(68.0,830.4) scale(0.9660,1)" font-size="24.30" text-anchor="end" font-family="Liberation Sans, Arial, Helvetica, sans-serif" fill="#000" stroke="#000" stroke-width="0.55">80</text>
<text transform="translate(68.0,790.1) scale(0.9129,1)" font-size="24.30" text-anchor="end" font-family="Liberation Sans, Arial, Helvetica, sans-serif" fill="#000" stroke="#000" stroke-width="0.55">100</text>
<text transform="translate(71.5,1005.1) scale(0.9660,1)" font-size="24.30" text-anchor="middle" font-family="Liberation Sans, Arial, Helvetica, sans-serif" fill="#000" stroke="#000" stroke-width="0.55">100</text>
<text transform="translate(196.9,1005.1) scale(0.9660,1)" font-size="24.30" text-anchor="middle" font-family="Liberation Sans, Arial, Helvetica, sans-serif" fill="#000" stroke="#000" stroke-width="0.55">200</text>
<text transform="translate(322.2,1005.1) scale(0.9660,1)" font-size="24.30" text-anchor="middle" font-family="Liberation Sans, Arial, Helvetica, sans-serif" fill="#000" stroke="#000" stroke-width="0.55">300</text>
<text transform="translate(447.6,1005.1) scale(0.9660,1)" font-size="24.30" text-anchor="middle" font-family="Liberation Sans, Arial, Helvetica, sans-serif" fill="#000" stroke="#000" stroke-width="0.55">400</text>
<text transform="translate(573.0,1005.1) scale(0.9660,1)" font-size="24.30" text-anchor="middle" font-family="Liberation Sans, Arial, Helvetica, sans-serif" fill="#000" stroke="#000" stroke-width="0.55">500</text>
<text transform="translate(698.4,1005.1) scale(0.9660,1)" font-size="24.30" text-anchor="middle" font-family="Liberation Sans, Arial, Helvetica, sans-serif" fill="#000" stroke="#000" stroke-width="0.55">600</text>
<text transform="translate(823.7,1005.1) scale(0.9660,1)" font-size="24.30" text-anchor="middle" font-family="Liberation Sans, Arial, Helvetica, sans-serif" fill="#000" stroke="#000" stroke-width="0.55">700</text>
<text transform="translate(949.1,1005.1) scale(0.9660,1)" font-size="24.30" text-anchor="middle" font-family="Liberation Sans, Arial, Helvetica, sans-serif" fill="#000" stroke="#000" stroke-width="0.55">800</text>
<text transform="translate(24.9,170.5) rotate(-90)" font-size="31.00" font-family="Liberation Sans, Arial, Helvetica, sans-serif" fill="#000" stroke="#000" stroke-width="0.55" textLength="170" lengthAdjust="spacingAndGlyphs">Intensity [AU]</text>
<text transform="translate(24.9,475.9) rotate(-90)" font-size="31.00" font-family="Liberation Sans, Arial, Helvetica, sans-serif" fill="#000" stroke="#000" stroke-width="0.55" textLength="219.5" lengthAdjust="spacingAndGlyphs">Transmit./QE [%]</text>
<text transform="translate(24.9,683) rotate(-90)" font-size="31.00" font-family="Liberation Sans, Arial, Helvetica, sans-serif" fill="#000" stroke="#000" stroke-width="0.55" textLength="170" lengthAdjust="spacingAndGlyphs">Intensity [AU]</text>
<text transform="translate(26.2,1013.6) rotate(-90)" font-size="34.00" font-family="Liberation Sans, Arial, Helvetica, sans-serif" fill="#000" stroke="#000" stroke-width="0.55" textLength="243.8" lengthAdjust="spacingAndGlyphs">Transmit./QE [%]</text>
<text x="677.6" y="1032.6" font-size="32.6" font-family="Liberation Sans, Arial, Helvetica, sans-serif" fill="#000" stroke="#000" stroke-width="0.55" textLength="240.5" lengthAdjust="spacingAndGlyphs">Wavelength [nm]</text>
<text transform="translate(85.4,26.4) scale(1.0000,1)" font-size="24.50" text-anchor="start" font-family="Liberation Sans, Arial, Helvetica, sans-serif" fill="#000" stroke="#000" stroke-width="0.55">a)</text>
<text transform="translate(85.4,282.6) scale(1.0000,1)" font-size="24.50" text-anchor="start" font-family="Liberation Sans, Arial, Helvetica, sans-serif" fill="#000" stroke="#000" stroke-width="0.55">b)</text>
<text transform="translate(85.4,539.0) scale(1.0000,1)" font-size="24.50" text-anchor="start" font-family="Liberation Sans, Arial, Helvetica, sans-serif" fill="#000" stroke="#000" stroke-width="0.55">c)</text>
<text transform="translate(85.6,791.0) scale(1.0000,1)" font-size="25.60" text-anchor="start" font-family="Liberation Sans, Arial, Helvetica, sans-serif" fill="#000" stroke="#000" stroke-width="0.55">d)</text>
<path d="M523.6,32.6H584.5" stroke="#ff1a8c" stroke-width="3.2" fill="none" stroke-dasharray="5.6 5.5"/>
<path d="M523.6,62.5H584.5" stroke="#8f0090" stroke-width="3.2" fill="none"/>
<path d="M523.6,93.0H584.5" stroke="#0a5fd0" stroke-width="3.4" fill="none" stroke-dasharray="1.6 1.75"/>
<text transform="translate(597.5,38.7) scale(0.9980,1)" font-size="24.50" text-anchor="start" font-family="Liberation Sans, Arial, Helvetica, sans-serif" fill="#000" stroke="#000" stroke-width="0.55">LXe scintillation</text>
<text transform="translate(597.5,68.9) scale(0.9980,1)" font-size="24.50" text-anchor="start" font-family="Liberation Sans, Arial, Helvetica, sans-serif" fill="#000" stroke="#000" stroke-width="0.55">LAr scintillation</text>
<text transform="translate(597.6,98.8) scale(0.9980,1)" font-size="24.50" text-anchor="start" font-family="Liberation Sans, Arial, Helvetica, sans-serif" fill="#000" stroke="#000" stroke-width="0.55">TPB emission</text>
<path d="M523.6,324.5H584.5" stroke="#ff1a8c" stroke-width="3.5" fill="none" stroke-dasharray="3.5 3.2"/>
<path d="M523.6,354.5H584.5" stroke="#7a7a7a" stroke-width="3.2" fill="none"/>
<path d="M523.6,385.0H584.5" stroke="#0a5fd0" stroke-width="3.5" fill="none" stroke-dasharray="22 5.6"/>
<text transform="translate(597.6,330.7) scale(0.9980,1)" font-size="24.50" text-anchor="start" font-family="Liberation Sans, Arial, Helvetica, sans-serif" fill="#000" stroke="#000" stroke-width="0.55">LUX PMT response</text>
<text transform="translate(597.6,360.7) scale(0.9980,1)" font-size="24.50" text-anchor="start" font-family="Liberation Sans, Arial, Helvetica, sans-serif" fill="#000" stroke="#000" stroke-width="0.55">DEAP PMT response</text>
<text transform="translate(597.6,391.0) scale(0.9980,1)" font-size="24.50" text-anchor="start" font-family="Liberation Sans, Arial, Helvetica, sans-serif" fill="#000" stroke="#000" stroke-width="0.55">RPT Acrylic trasmittance</text>
<path d="M523.6,595.2H584.5" stroke="#8f0090" stroke-width="3.2" fill="none"/>
<text transform="translate(597.8,602.6) scale(0.9980,1)" font-size="24.50" text-anchor="start" font-family="Liberation Sans, Arial, Helvetica, sans-serif" fill="#000" stroke="#000" stroke-width="0.55">Deuterium lamp spectrum</text>
<path d="M519.4,821.0H580.0" stroke="#7a7a7a" stroke-width="3.2" fill="none"/>
<path d="M519.4,852.6H580.0" stroke="#0a5fd0" stroke-width="3.5" fill="none" stroke-dasharray="21 6.7"/>
<rect x="520.2" y="875.3" width="60" height="21.6" fill="url(#chk)" stroke="#c896ff" stroke-width="3.2" shape-rendering="crispEdges"/>
<text transform="translate(593.2,826.6) scale(0.9673,1)" font-size="27.46" text-anchor="start" font-family="Liberation Sans, Arial, Helvetica, sans-serif" fill="#000" stroke="#000" stroke-width="0.55">PMT response</text>
<text transform="translate(593.2,859.6) scale(0.9673,1)" font-size="27.46" text-anchor="start" font-family="Liberation Sans, Arial, Helvetica, sans-serif" fill="#000" stroke="#000" stroke-width="0.55">Filter transmittance</text>
<text transform="translate(593.2,892.3) scale(0.9673,1)" font-size="27.46" text-anchor="start" font-family="Liberation Sans, Arial, Helvetica, sans-serif" fill="#000" stroke="#000" stroke-width="0.55">Fluorescence sensitive region</text>
</svg>
</body></html>
